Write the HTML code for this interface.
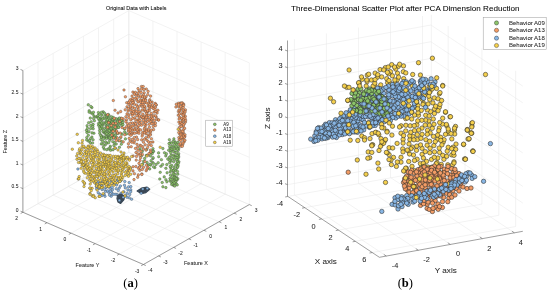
<!DOCTYPE html>
<html><head><meta charset="utf-8"><style>
html,body{margin:0;padding:0;background:#fff;}
svg{display:block;}
circle{stroke:#262626;}
.L circle{stroke-width:0.32;}
.R circle{stroke-width:0.55;}
.g{fill:#8cc46a;} .o{fill:#f39c65;} .b{fill:#88b6e4;} .y{fill:#f4cf4c;}
</style></head><body>
<svg width="550" height="292" viewBox="0 0 550 292">
<rect width="550" height="292" fill="#fff"/>
<line x1="143.40" y1="264.50" x2="22.90" y2="212.25" stroke="#e7e7e7" stroke-width="0.5" />
<line x1="158.53" y1="255.94" x2="38.03" y2="203.69" stroke="#e7e7e7" stroke-width="0.5" />
<line x1="173.66" y1="247.39" x2="53.16" y2="195.14" stroke="#e7e7e7" stroke-width="0.5" />
<line x1="188.79" y1="238.83" x2="68.29" y2="186.58" stroke="#e7e7e7" stroke-width="0.5" />
<line x1="203.91" y1="230.27" x2="83.41" y2="178.02" stroke="#e7e7e7" stroke-width="0.5" />
<line x1="219.04" y1="221.71" x2="98.54" y2="169.46" stroke="#e7e7e7" stroke-width="0.5" />
<line x1="234.17" y1="213.16" x2="113.67" y2="160.91" stroke="#e7e7e7" stroke-width="0.5" />
<line x1="249.30" y1="204.60" x2="128.80" y2="152.35" stroke="#e7e7e7" stroke-width="0.5" />
<line x1="143.40" y1="264.50" x2="249.30" y2="204.60" stroke="#e7e7e7" stroke-width="0.5" />
<line x1="119.30" y1="254.05" x2="225.20" y2="194.15" stroke="#e7e7e7" stroke-width="0.5" />
<line x1="95.20" y1="243.60" x2="201.10" y2="183.70" stroke="#e7e7e7" stroke-width="0.5" />
<line x1="71.10" y1="233.15" x2="177.00" y2="173.25" stroke="#e7e7e7" stroke-width="0.5" />
<line x1="47.00" y1="222.70" x2="152.90" y2="162.80" stroke="#e7e7e7" stroke-width="0.5" />
<line x1="22.90" y1="212.25" x2="128.80" y2="152.35" stroke="#e7e7e7" stroke-width="0.5" />
<line x1="22.90" y1="212.25" x2="22.90" y2="70.50" stroke="#e7e7e7" stroke-width="0.5" />
<line x1="38.03" y1="203.69" x2="38.03" y2="61.94" stroke="#e7e7e7" stroke-width="0.5" />
<line x1="53.16" y1="195.14" x2="53.16" y2="53.39" stroke="#e7e7e7" stroke-width="0.5" />
<line x1="68.29" y1="186.58" x2="68.29" y2="44.83" stroke="#e7e7e7" stroke-width="0.5" />
<line x1="83.41" y1="178.02" x2="83.41" y2="36.27" stroke="#e7e7e7" stroke-width="0.5" />
<line x1="98.54" y1="169.46" x2="98.54" y2="27.71" stroke="#e7e7e7" stroke-width="0.5" />
<line x1="113.67" y1="160.91" x2="113.67" y2="19.16" stroke="#e7e7e7" stroke-width="0.5" />
<line x1="128.80" y1="152.35" x2="128.80" y2="10.60" stroke="#e7e7e7" stroke-width="0.5" />
<line x1="22.90" y1="212.25" x2="128.80" y2="152.35" stroke="#e7e7e7" stroke-width="0.5" />
<line x1="22.90" y1="188.62" x2="128.80" y2="128.72" stroke="#e7e7e7" stroke-width="0.5" />
<line x1="22.90" y1="165.00" x2="128.80" y2="105.10" stroke="#e7e7e7" stroke-width="0.5" />
<line x1="22.90" y1="141.38" x2="128.80" y2="81.47" stroke="#e7e7e7" stroke-width="0.5" />
<line x1="22.90" y1="117.75" x2="128.80" y2="57.85" stroke="#e7e7e7" stroke-width="0.5" />
<line x1="22.90" y1="94.12" x2="128.80" y2="34.22" stroke="#e7e7e7" stroke-width="0.5" />
<line x1="22.90" y1="70.50" x2="128.80" y2="10.60" stroke="#e7e7e7" stroke-width="0.5" />
<line x1="249.30" y1="204.60" x2="249.30" y2="62.85" stroke="#e7e7e7" stroke-width="0.5" />
<line x1="225.20" y1="194.15" x2="225.20" y2="52.40" stroke="#e7e7e7" stroke-width="0.5" />
<line x1="201.10" y1="183.70" x2="201.10" y2="41.95" stroke="#e7e7e7" stroke-width="0.5" />
<line x1="177.00" y1="173.25" x2="177.00" y2="31.50" stroke="#e7e7e7" stroke-width="0.5" />
<line x1="152.90" y1="162.80" x2="152.90" y2="21.05" stroke="#e7e7e7" stroke-width="0.5" />
<line x1="128.80" y1="152.35" x2="128.80" y2="10.60" stroke="#e7e7e7" stroke-width="0.5" />
<line x1="249.30" y1="204.60" x2="128.80" y2="152.35" stroke="#e7e7e7" stroke-width="0.5" />
<line x1="249.30" y1="180.97" x2="128.80" y2="128.72" stroke="#e7e7e7" stroke-width="0.5" />
<line x1="249.30" y1="157.35" x2="128.80" y2="105.10" stroke="#e7e7e7" stroke-width="0.5" />
<line x1="249.30" y1="133.72" x2="128.80" y2="81.47" stroke="#e7e7e7" stroke-width="0.5" />
<line x1="249.30" y1="110.10" x2="128.80" y2="57.85" stroke="#e7e7e7" stroke-width="0.5" />
<line x1="249.30" y1="86.47" x2="128.80" y2="34.22" stroke="#e7e7e7" stroke-width="0.5" />
<line x1="249.30" y1="62.85" x2="128.80" y2="10.60" stroke="#e7e7e7" stroke-width="0.5" />
<line x1="22.90" y1="212.25" x2="22.90" y2="70.50" stroke="#606060" stroke-width="0.6" />
<line x1="22.90" y1="212.25" x2="143.40" y2="264.50" stroke="#606060" stroke-width="0.6" />
<line x1="143.40" y1="264.50" x2="249.30" y2="204.60" stroke="#606060" stroke-width="0.6" />
<line x1="22.90" y1="212.25" x2="20.50" y2="211.20" stroke="#606060" stroke-width="0.6" />
<line x1="22.90" y1="188.62" x2="20.50" y2="187.57" stroke="#606060" stroke-width="0.6" />
<line x1="22.90" y1="165.00" x2="20.50" y2="163.95" stroke="#606060" stroke-width="0.6" />
<line x1="22.90" y1="141.38" x2="20.50" y2="140.32" stroke="#606060" stroke-width="0.6" />
<line x1="22.90" y1="117.75" x2="20.50" y2="116.70" stroke="#606060" stroke-width="0.6" />
<line x1="22.90" y1="94.12" x2="20.50" y2="93.08" stroke="#606060" stroke-width="0.6" />
<line x1="22.90" y1="70.50" x2="20.50" y2="69.45" stroke="#606060" stroke-width="0.6" />
<line x1="143.40" y1="264.50" x2="141.13" y2="265.78" stroke="#606060" stroke-width="0.6" />
<line x1="119.30" y1="254.05" x2="117.03" y2="255.33" stroke="#606060" stroke-width="0.6" />
<line x1="95.20" y1="243.60" x2="92.93" y2="244.88" stroke="#606060" stroke-width="0.6" />
<line x1="71.10" y1="233.15" x2="68.83" y2="234.43" stroke="#606060" stroke-width="0.6" />
<line x1="47.00" y1="222.70" x2="44.73" y2="223.98" stroke="#606060" stroke-width="0.6" />
<line x1="22.90" y1="212.25" x2="20.63" y2="213.53" stroke="#606060" stroke-width="0.6" />
<line x1="143.40" y1="264.50" x2="145.81" y2="265.55" stroke="#606060" stroke-width="0.6" />
<line x1="158.53" y1="255.94" x2="160.94" y2="256.99" stroke="#606060" stroke-width="0.6" />
<line x1="173.66" y1="247.39" x2="176.07" y2="248.43" stroke="#606060" stroke-width="0.6" />
<line x1="188.79" y1="238.83" x2="191.20" y2="239.87" stroke="#606060" stroke-width="0.6" />
<line x1="203.91" y1="230.27" x2="206.32" y2="231.32" stroke="#606060" stroke-width="0.6" />
<line x1="219.04" y1="221.71" x2="221.45" y2="222.76" stroke="#606060" stroke-width="0.6" />
<line x1="234.17" y1="213.16" x2="236.58" y2="214.20" stroke="#606060" stroke-width="0.6" />
<line x1="249.30" y1="204.60" x2="251.71" y2="205.64" stroke="#606060" stroke-width="0.6" />
<text x="18.40" y="210.75" font-size="4.95" text-anchor="end" fill="#262626" stroke="#262626" stroke-width="0.05" font-family="Liberation Sans, Arial, sans-serif" dominant-baseline="middle">0</text>
<text x="18.40" y="187.12" font-size="4.95" text-anchor="end" fill="#262626" stroke="#262626" stroke-width="0.05" font-family="Liberation Sans, Arial, sans-serif" dominant-baseline="middle">0.5</text>
<text x="18.40" y="163.50" font-size="4.95" text-anchor="end" fill="#262626" stroke="#262626" stroke-width="0.05" font-family="Liberation Sans, Arial, sans-serif" dominant-baseline="middle">1</text>
<text x="18.40" y="139.88" font-size="4.95" text-anchor="end" fill="#262626" stroke="#262626" stroke-width="0.05" font-family="Liberation Sans, Arial, sans-serif" dominant-baseline="middle">1.5</text>
<text x="18.40" y="116.25" font-size="4.95" text-anchor="end" fill="#262626" stroke="#262626" stroke-width="0.05" font-family="Liberation Sans, Arial, sans-serif" dominant-baseline="middle">2</text>
<text x="18.40" y="92.62" font-size="4.95" text-anchor="end" fill="#262626" stroke="#262626" stroke-width="0.05" font-family="Liberation Sans, Arial, sans-serif" dominant-baseline="middle">2.5</text>
<text x="18.40" y="69.00" font-size="4.95" text-anchor="end" fill="#262626" stroke="#262626" stroke-width="0.05" font-family="Liberation Sans, Arial, sans-serif" dominant-baseline="middle">3</text>
<text x="137.10" y="271.20" font-size="4.95" text-anchor="middle" fill="#262626" stroke="#262626" stroke-width="0.05" font-family="Liberation Sans, Arial, sans-serif" dominant-baseline="middle">-3</text>
<text x="113.00" y="260.75" font-size="4.95" text-anchor="middle" fill="#262626" stroke="#262626" stroke-width="0.05" font-family="Liberation Sans, Arial, sans-serif" dominant-baseline="middle">-2</text>
<text x="88.90" y="250.30" font-size="4.95" text-anchor="middle" fill="#262626" stroke="#262626" stroke-width="0.05" font-family="Liberation Sans, Arial, sans-serif" dominant-baseline="middle">-1</text>
<text x="64.80" y="239.85" font-size="4.95" text-anchor="middle" fill="#262626" stroke="#262626" stroke-width="0.05" font-family="Liberation Sans, Arial, sans-serif" dominant-baseline="middle">0</text>
<text x="40.70" y="229.40" font-size="4.95" text-anchor="middle" fill="#262626" stroke="#262626" stroke-width="0.05" font-family="Liberation Sans, Arial, sans-serif" dominant-baseline="middle">1</text>
<text x="16.60" y="218.95" font-size="4.95" text-anchor="middle" fill="#262626" stroke="#262626" stroke-width="0.05" font-family="Liberation Sans, Arial, sans-serif" dominant-baseline="middle">2</text>
<text x="150.20" y="270.90" font-size="4.95" text-anchor="middle" fill="#262626" stroke="#262626" stroke-width="0.05" font-family="Liberation Sans, Arial, sans-serif" dominant-baseline="middle">-4</text>
<text x="165.33" y="262.34" font-size="4.95" text-anchor="middle" fill="#262626" stroke="#262626" stroke-width="0.05" font-family="Liberation Sans, Arial, sans-serif" dominant-baseline="middle">-3</text>
<text x="180.46" y="253.79" font-size="4.95" text-anchor="middle" fill="#262626" stroke="#262626" stroke-width="0.05" font-family="Liberation Sans, Arial, sans-serif" dominant-baseline="middle">-2</text>
<text x="195.59" y="245.23" font-size="4.95" text-anchor="middle" fill="#262626" stroke="#262626" stroke-width="0.05" font-family="Liberation Sans, Arial, sans-serif" dominant-baseline="middle">-1</text>
<text x="210.71" y="236.67" font-size="4.95" text-anchor="middle" fill="#262626" stroke="#262626" stroke-width="0.05" font-family="Liberation Sans, Arial, sans-serif" dominant-baseline="middle">0</text>
<text x="225.84" y="228.11" font-size="4.95" text-anchor="middle" fill="#262626" stroke="#262626" stroke-width="0.05" font-family="Liberation Sans, Arial, sans-serif" dominant-baseline="middle">1</text>
<text x="240.97" y="219.56" font-size="4.95" text-anchor="middle" fill="#262626" stroke="#262626" stroke-width="0.05" font-family="Liberation Sans, Arial, sans-serif" dominant-baseline="middle">2</text>
<text x="256.10" y="211.00" font-size="4.95" text-anchor="middle" fill="#262626" stroke="#262626" stroke-width="0.05" font-family="Liberation Sans, Arial, sans-serif" dominant-baseline="middle">3</text>
<text x="87.50" y="266.60" font-size="5.45" text-anchor="middle" fill="#262626" stroke="#262626" stroke-width="0.05" font-family="Liberation Sans, Arial, sans-serif" >Feature Y</text>
<text x="196.00" y="264.90" font-size="5.45" text-anchor="middle" fill="#262626" stroke="#262626" stroke-width="0.05" font-family="Liberation Sans, Arial, sans-serif" >Feature X</text>
<text x="0.00" y="0.00" font-size="5.45" text-anchor="middle" fill="#262626" stroke="#262626" stroke-width="0.05" font-family="Liberation Sans, Arial, sans-serif" transform="translate(6.8,141.8) rotate(-90)">Feature Z</text>
<text x="136.25" y="9.50" font-size="5.45" text-anchor="middle" fill="#000" stroke="#000" stroke-width="0.05" font-family="Liberation Sans, Arial, sans-serif" >Original Data with Labels</text>
<line x1="287.92" y1="196.48" x2="431.32" y2="170.48" stroke="#e7e7e7" stroke-width="0.5" />
<line x1="304.78" y1="207.69" x2="448.18" y2="181.69" stroke="#e7e7e7" stroke-width="0.5" />
<line x1="321.65" y1="218.90" x2="465.05" y2="192.90" stroke="#e7e7e7" stroke-width="0.5" />
<line x1="338.51" y1="230.11" x2="481.91" y2="204.11" stroke="#e7e7e7" stroke-width="0.5" />
<line x1="355.37" y1="241.32" x2="498.77" y2="215.32" stroke="#e7e7e7" stroke-width="0.5" />
<line x1="372.23" y1="252.54" x2="515.63" y2="226.54" stroke="#e7e7e7" stroke-width="0.5" />
<line x1="294.39" y1="194.95" x2="386.29" y2="256.05" stroke="#e7e7e7" stroke-width="0.5" />
<line x1="326.41" y1="189.14" x2="418.31" y2="250.24" stroke="#e7e7e7" stroke-width="0.5" />
<line x1="358.44" y1="183.34" x2="450.34" y2="244.44" stroke="#e7e7e7" stroke-width="0.5" />
<line x1="390.47" y1="177.53" x2="482.37" y2="238.63" stroke="#e7e7e7" stroke-width="0.5" />
<line x1="422.49" y1="171.72" x2="514.39" y2="232.82" stroke="#e7e7e7" stroke-width="0.5" />
<line x1="294.39" y1="194.95" x2="294.39" y2="39.25" stroke="#e7e7e7" stroke-width="0.5" />
<line x1="326.41" y1="189.14" x2="326.41" y2="33.44" stroke="#e7e7e7" stroke-width="0.5" />
<line x1="358.44" y1="183.34" x2="358.44" y2="27.64" stroke="#e7e7e7" stroke-width="0.5" />
<line x1="390.47" y1="177.53" x2="390.47" y2="21.83" stroke="#e7e7e7" stroke-width="0.5" />
<line x1="422.49" y1="171.72" x2="422.49" y2="16.02" stroke="#e7e7e7" stroke-width="0.5" />
<line x1="287.50" y1="184.67" x2="430.90" y2="158.67" stroke="#e7e7e7" stroke-width="0.5" />
<line x1="287.50" y1="167.97" x2="430.90" y2="141.97" stroke="#e7e7e7" stroke-width="0.5" />
<line x1="287.50" y1="151.26" x2="430.90" y2="125.26" stroke="#e7e7e7" stroke-width="0.5" />
<line x1="287.50" y1="134.55" x2="430.90" y2="108.55" stroke="#e7e7e7" stroke-width="0.5" />
<line x1="287.50" y1="117.85" x2="430.90" y2="91.85" stroke="#e7e7e7" stroke-width="0.5" />
<line x1="287.50" y1="101.14" x2="430.90" y2="75.14" stroke="#e7e7e7" stroke-width="0.5" />
<line x1="287.50" y1="84.44" x2="430.90" y2="58.44" stroke="#e7e7e7" stroke-width="0.5" />
<line x1="287.50" y1="67.73" x2="430.90" y2="41.73" stroke="#e7e7e7" stroke-width="0.5" />
<line x1="287.50" y1="51.02" x2="430.90" y2="25.02" stroke="#e7e7e7" stroke-width="0.5" />
<line x1="431.32" y1="170.48" x2="431.32" y2="14.78" stroke="#e7e7e7" stroke-width="0.5" />
<line x1="448.18" y1="181.69" x2="448.18" y2="25.99" stroke="#e7e7e7" stroke-width="0.5" />
<line x1="465.05" y1="192.90" x2="465.05" y2="37.20" stroke="#e7e7e7" stroke-width="0.5" />
<line x1="481.91" y1="204.11" x2="481.91" y2="48.41" stroke="#e7e7e7" stroke-width="0.5" />
<line x1="498.77" y1="215.32" x2="498.77" y2="59.62" stroke="#e7e7e7" stroke-width="0.5" />
<line x1="515.63" y1="226.54" x2="515.63" y2="70.84" stroke="#e7e7e7" stroke-width="0.5" />
<line x1="430.90" y1="158.67" x2="522.80" y2="219.77" stroke="#e7e7e7" stroke-width="0.5" />
<line x1="430.90" y1="141.97" x2="522.80" y2="203.07" stroke="#e7e7e7" stroke-width="0.5" />
<line x1="430.90" y1="125.26" x2="522.80" y2="186.36" stroke="#e7e7e7" stroke-width="0.5" />
<line x1="430.90" y1="108.55" x2="522.80" y2="169.65" stroke="#e7e7e7" stroke-width="0.5" />
<line x1="430.90" y1="91.85" x2="522.80" y2="152.95" stroke="#e7e7e7" stroke-width="0.5" />
<line x1="430.90" y1="75.14" x2="522.80" y2="136.24" stroke="#e7e7e7" stroke-width="0.5" />
<line x1="430.90" y1="58.44" x2="522.80" y2="119.54" stroke="#e7e7e7" stroke-width="0.5" />
<line x1="430.90" y1="41.73" x2="522.80" y2="102.83" stroke="#e7e7e7" stroke-width="0.5" />
<line x1="430.90" y1="25.02" x2="522.80" y2="86.12" stroke="#e7e7e7" stroke-width="0.5" />
<line x1="287.50" y1="196.20" x2="287.50" y2="40.50" stroke="#606060" stroke-width="0.6" />
<line x1="287.50" y1="196.20" x2="379.40" y2="257.30" stroke="#606060" stroke-width="0.6" />
<line x1="379.40" y1="257.30" x2="522.80" y2="231.30" stroke="#606060" stroke-width="0.6" />
<line x1="287.50" y1="184.67" x2="285.00" y2="183.67" stroke="#606060" stroke-width="0.6" />
<line x1="287.50" y1="167.97" x2="285.00" y2="166.97" stroke="#606060" stroke-width="0.6" />
<line x1="287.50" y1="151.26" x2="285.00" y2="150.26" stroke="#606060" stroke-width="0.6" />
<line x1="287.50" y1="134.55" x2="285.00" y2="133.55" stroke="#606060" stroke-width="0.6" />
<line x1="287.50" y1="117.85" x2="285.00" y2="116.85" stroke="#606060" stroke-width="0.6" />
<line x1="287.50" y1="101.14" x2="285.00" y2="100.14" stroke="#606060" stroke-width="0.6" />
<line x1="287.50" y1="84.44" x2="285.00" y2="83.44" stroke="#606060" stroke-width="0.6" />
<line x1="287.50" y1="67.73" x2="285.00" y2="66.73" stroke="#606060" stroke-width="0.6" />
<line x1="287.50" y1="51.02" x2="285.00" y2="50.02" stroke="#606060" stroke-width="0.6" />
<line x1="287.92" y1="196.48" x2="285.20" y2="196.97" stroke="#606060" stroke-width="0.6" />
<line x1="304.78" y1="207.69" x2="302.06" y2="208.18" stroke="#606060" stroke-width="0.6" />
<line x1="321.65" y1="218.90" x2="318.92" y2="219.40" stroke="#606060" stroke-width="0.6" />
<line x1="338.51" y1="230.11" x2="335.79" y2="230.61" stroke="#606060" stroke-width="0.6" />
<line x1="355.37" y1="241.32" x2="352.65" y2="241.82" stroke="#606060" stroke-width="0.6" />
<line x1="372.23" y1="252.54" x2="369.51" y2="253.03" stroke="#606060" stroke-width="0.6" />
<line x1="386.29" y1="256.05" x2="383.76" y2="254.37" stroke="#606060" stroke-width="0.6" />
<line x1="418.31" y1="250.24" x2="415.78" y2="248.56" stroke="#606060" stroke-width="0.6" />
<line x1="450.34" y1="244.44" x2="447.81" y2="242.76" stroke="#606060" stroke-width="0.6" />
<line x1="482.37" y1="238.63" x2="479.84" y2="236.95" stroke="#606060" stroke-width="0.6" />
<line x1="514.39" y1="232.82" x2="511.86" y2="231.14" stroke="#606060" stroke-width="0.6" />
<text x="282.50" y="182.87" font-size="7.35" text-anchor="end" fill="#262626" stroke="#262626" stroke-width="0.05" font-family="Liberation Sans, Arial, sans-serif" dominant-baseline="middle">-4</text>
<text x="282.50" y="166.17" font-size="7.35" text-anchor="end" fill="#262626" stroke="#262626" stroke-width="0.05" font-family="Liberation Sans, Arial, sans-serif" dominant-baseline="middle">-3</text>
<text x="282.50" y="149.46" font-size="7.35" text-anchor="end" fill="#262626" stroke="#262626" stroke-width="0.05" font-family="Liberation Sans, Arial, sans-serif" dominant-baseline="middle">-2</text>
<text x="282.50" y="132.75" font-size="7.35" text-anchor="end" fill="#262626" stroke="#262626" stroke-width="0.05" font-family="Liberation Sans, Arial, sans-serif" dominant-baseline="middle">-1</text>
<text x="282.50" y="116.05" font-size="7.35" text-anchor="end" fill="#262626" stroke="#262626" stroke-width="0.05" font-family="Liberation Sans, Arial, sans-serif" dominant-baseline="middle">0</text>
<text x="282.50" y="99.34" font-size="7.35" text-anchor="end" fill="#262626" stroke="#262626" stroke-width="0.05" font-family="Liberation Sans, Arial, sans-serif" dominant-baseline="middle">1</text>
<text x="282.50" y="82.64" font-size="7.35" text-anchor="end" fill="#262626" stroke="#262626" stroke-width="0.05" font-family="Liberation Sans, Arial, sans-serif" dominant-baseline="middle">2</text>
<text x="282.50" y="65.93" font-size="7.35" text-anchor="end" fill="#262626" stroke="#262626" stroke-width="0.05" font-family="Liberation Sans, Arial, sans-serif" dominant-baseline="middle">3</text>
<text x="282.50" y="49.22" font-size="7.35" text-anchor="end" fill="#262626" stroke="#262626" stroke-width="0.05" font-family="Liberation Sans, Arial, sans-serif" dominant-baseline="middle">4</text>
<text x="279.92" y="204.28" font-size="7.35" text-anchor="middle" fill="#262626" stroke="#262626" stroke-width="0.05" font-family="Liberation Sans, Arial, sans-serif" dominant-baseline="middle">-4</text>
<text x="296.78" y="215.49" font-size="7.35" text-anchor="middle" fill="#262626" stroke="#262626" stroke-width="0.05" font-family="Liberation Sans, Arial, sans-serif" dominant-baseline="middle">-2</text>
<text x="313.65" y="226.70" font-size="7.35" text-anchor="middle" fill="#262626" stroke="#262626" stroke-width="0.05" font-family="Liberation Sans, Arial, sans-serif" dominant-baseline="middle">0</text>
<text x="330.51" y="237.91" font-size="7.35" text-anchor="middle" fill="#262626" stroke="#262626" stroke-width="0.05" font-family="Liberation Sans, Arial, sans-serif" dominant-baseline="middle">2</text>
<text x="347.37" y="249.12" font-size="7.35" text-anchor="middle" fill="#262626" stroke="#262626" stroke-width="0.05" font-family="Liberation Sans, Arial, sans-serif" dominant-baseline="middle">4</text>
<text x="364.23" y="260.34" font-size="7.35" text-anchor="middle" fill="#262626" stroke="#262626" stroke-width="0.05" font-family="Liberation Sans, Arial, sans-serif" dominant-baseline="middle">6</text>
<text x="395.10" y="265.90" font-size="7.35" text-anchor="middle" fill="#262626" stroke="#262626" stroke-width="0.05" font-family="Liberation Sans, Arial, sans-serif" dominant-baseline="middle">-4</text>
<text x="426.50" y="260.20" font-size="7.35" text-anchor="middle" fill="#262626" stroke="#262626" stroke-width="0.05" font-family="Liberation Sans, Arial, sans-serif" dominant-baseline="middle">-2</text>
<text x="458.00" y="254.50" font-size="7.35" text-anchor="middle" fill="#262626" stroke="#262626" stroke-width="0.05" font-family="Liberation Sans, Arial, sans-serif" dominant-baseline="middle">0</text>
<text x="489.40" y="248.80" font-size="7.35" text-anchor="middle" fill="#262626" stroke="#262626" stroke-width="0.05" font-family="Liberation Sans, Arial, sans-serif" dominant-baseline="middle">2</text>
<text x="520.90" y="243.10" font-size="7.35" text-anchor="middle" fill="#262626" stroke="#262626" stroke-width="0.05" font-family="Liberation Sans, Arial, sans-serif" dominant-baseline="middle">4</text>
<text x="325.80" y="263.90" font-size="8.1" text-anchor="middle" fill="#262626" stroke="#262626" stroke-width="0.05" font-family="Liberation Sans, Arial, sans-serif" >X axis</text>
<text x="445.80" y="272.70" font-size="8.1" text-anchor="middle" fill="#262626" stroke="#262626" stroke-width="0.05" font-family="Liberation Sans, Arial, sans-serif" >Y axis</text>
<text x="0.00" y="0.00" font-size="8.1" text-anchor="middle" fill="#262626" stroke="#262626" stroke-width="0.05" font-family="Liberation Sans, Arial, sans-serif" transform="translate(270.1,118.2) rotate(-90)">Z axis</text>
<text x="405.30" y="10.60" font-size="8.11" text-anchor="middle" fill="#000" stroke="#000" stroke-width="0.05" font-family="Liberation Sans, Arial, sans-serif" >Three-Dimensional Scatter Plot after PCA Dimension Reduction</text>
<text x="130.60" y="287.20" font-size="12.5" text-anchor="middle" fill="#000" font-family="Liberation Serif, serif" font-weight="bold"><tspan font-weight="normal">(</tspan>a<tspan font-weight="normal">)</tspan></text>
<text x="405.30" y="287.20" font-size="12.5" text-anchor="middle" fill="#000" font-family="Liberation Serif, serif" font-weight="bold"><tspan font-weight="normal">(</tspan>b<tspan font-weight="normal">)</tspan></text>
<g class="L">
<circle cx="86.8" cy="137.5" r="1.28" class="g"/>
<circle cx="88.3" cy="104.8" r="1.28" class="g"/>
<circle cx="94.4" cy="120.7" r="1.28" class="g"/>
<circle cx="87.1" cy="125.7" r="1.28" class="g"/>
<circle cx="89.2" cy="110.7" r="1.28" class="g"/>
<circle cx="90.3" cy="142.8" r="1.28" class="g"/>
<circle cx="93.9" cy="133.2" r="1.28" class="g"/>
<circle cx="90.6" cy="128.6" r="1.28" class="g"/>
<circle cx="92.7" cy="113.9" r="1.28" class="g"/>
<circle cx="88.6" cy="122.7" r="1.28" class="g"/>
<circle cx="86.9" cy="132.4" r="1.28" class="g"/>
<circle cx="93.1" cy="124.4" r="1.28" class="g"/>
<circle cx="88.4" cy="141.1" r="1.28" class="g"/>
<circle cx="86.5" cy="130.3" r="1.28" class="g"/>
<circle cx="91.9" cy="137.1" r="1.28" class="g"/>
<circle cx="93.5" cy="118.5" r="1.28" class="g"/>
<circle cx="90.9" cy="112.8" r="1.28" class="g"/>
<circle cx="91.9" cy="107.6" r="1.28" class="g"/>
<circle cx="91.2" cy="121.8" r="1.28" class="g"/>
<circle cx="87.5" cy="128.4" r="1.28" class="g"/>
<circle cx="94.0" cy="116.0" r="1.28" class="g"/>
<circle cx="88.3" cy="135.3" r="1.28" class="g"/>
<circle cx="93.1" cy="139.8" r="1.28" class="g"/>
<circle cx="90.7" cy="125.4" r="1.28" class="g"/>
<circle cx="90.9" cy="106.5" r="1.28" class="g"/>
<circle cx="92.0" cy="132.9" r="1.28" class="g"/>
<circle cx="90.4" cy="138.7" r="1.28" class="g"/>
<circle cx="89.0" cy="131.7" r="1.28" class="g"/>
<circle cx="93.2" cy="128.8" r="1.28" class="g"/>
<circle cx="89.7" cy="140.5" r="1.28" class="g"/>
<circle cx="86.7" cy="139.9" r="1.28" class="g"/>
<circle cx="93.4" cy="112.2" r="1.28" class="g"/>
<circle cx="92.8" cy="126.5" r="1.28" class="g"/>
<circle cx="90.3" cy="118.1" r="1.28" class="g"/>
<circle cx="89.1" cy="112.1" r="1.28" class="g"/>
<circle cx="92.6" cy="143.0" r="1.28" class="g"/>
<circle cx="96.0" cy="117.0" r="1.28" class="g"/>
<circle cx="97.5" cy="116.5" r="1.28" class="g"/>
<circle cx="110.6" cy="131.1" r="1.28" class="g"/>
<circle cx="106.8" cy="118.1" r="1.28" class="g"/>
<circle cx="121.0" cy="118.3" r="1.28" class="g"/>
<circle cx="102.0" cy="128.6" r="1.28" class="g"/>
<circle cx="103.4" cy="137.0" r="1.28" class="g"/>
<circle cx="114.0" cy="119.5" r="1.28" class="g"/>
<circle cx="100.3" cy="121.7" r="1.28" class="g"/>
<circle cx="103.2" cy="111.9" r="1.28" class="g"/>
<circle cx="119.2" cy="123.5" r="1.28" class="g"/>
<circle cx="112.9" cy="135.8" r="1.28" class="g"/>
<circle cx="98.4" cy="112.6" r="1.28" class="g"/>
<circle cx="114.4" cy="131.1" r="1.28" class="g"/>
<circle cx="113.5" cy="126.1" r="1.28" class="g"/>
<circle cx="101.5" cy="135.8" r="1.28" class="g"/>
<circle cx="98.6" cy="125.3" r="1.28" class="g"/>
<circle cx="105.5" cy="122.5" r="1.28" class="g"/>
<circle cx="106.7" cy="126.5" r="1.28" class="g"/>
<circle cx="106.1" cy="131.2" r="1.28" class="g"/>
<circle cx="117.3" cy="120.8" r="1.28" class="g"/>
<circle cx="101.9" cy="115.0" r="1.28" class="g"/>
<circle cx="100.3" cy="118.1" r="1.28" class="g"/>
<circle cx="116.7" cy="133.0" r="1.28" class="g"/>
<circle cx="110.4" cy="121.9" r="1.28" class="g"/>
<circle cx="108.3" cy="128.0" r="1.28" class="g"/>
<circle cx="108.2" cy="136.3" r="1.28" class="g"/>
<circle cx="119.9" cy="121.4" r="1.28" class="g"/>
<circle cx="98.0" cy="115.6" r="1.28" class="g"/>
<circle cx="116.5" cy="124.3" r="1.28" class="g"/>
<circle cx="113.7" cy="137.9" r="1.28" class="g"/>
<circle cx="104.5" cy="118.5" r="1.28" class="g"/>
<circle cx="102.8" cy="125.1" r="1.28" class="g"/>
<circle cx="108.4" cy="114.5" r="1.28" class="g"/>
<circle cx="111.6" cy="127.4" r="1.28" class="g"/>
<circle cx="99.0" cy="119.8" r="1.28" class="g"/>
<circle cx="115.8" cy="128.4" r="1.28" class="g"/>
<circle cx="116.1" cy="126.2" r="1.28" class="g"/>
<circle cx="99.6" cy="130.6" r="1.28" class="g"/>
<circle cx="111.2" cy="119.7" r="1.28" class="g"/>
<circle cx="122.6" cy="120.5" r="1.28" class="g"/>
<circle cx="103.2" cy="122.7" r="1.28" class="g"/>
<circle cx="111.9" cy="133.8" r="1.28" class="g"/>
<circle cx="118.7" cy="127.3" r="1.28" class="g"/>
<circle cx="120.9" cy="123.4" r="1.28" class="g"/>
<circle cx="104.0" cy="132.8" r="1.28" class="g"/>
<circle cx="105.8" cy="134.8" r="1.28" class="g"/>
<circle cx="115.3" cy="135.1" r="1.28" class="g"/>
<circle cx="116.3" cy="137.3" r="1.28" class="g"/>
<circle cx="110.0" cy="124.3" r="1.28" class="g"/>
<circle cx="118.6" cy="118.8" r="1.28" class="g"/>
<circle cx="121.7" cy="125.5" r="1.28" class="g"/>
<circle cx="108.8" cy="132.4" r="1.28" class="g"/>
<circle cx="114.5" cy="123.9" r="1.28" class="g"/>
<circle cx="108.0" cy="121.5" r="1.28" class="g"/>
<circle cx="101.3" cy="117.9" r="1.28" class="g"/>
<circle cx="108.9" cy="134.5" r="1.28" class="g"/>
<circle cx="100.9" cy="125.5" r="1.28" class="g"/>
<circle cx="99.8" cy="133.3" r="1.28" class="g"/>
<circle cx="105.9" cy="132.9" r="1.28" class="g"/>
<circle cx="100.7" cy="135.5" r="1.28" class="g"/>
<circle cx="104.6" cy="128.2" r="1.28" class="g"/>
<circle cx="108.7" cy="118.3" r="1.28" class="g"/>
<circle cx="108.7" cy="122.9" r="1.28" class="g"/>
<circle cx="108.0" cy="137.8" r="1.28" class="g"/>
<circle cx="105.9" cy="115.0" r="1.28" class="g"/>
<circle cx="113.1" cy="134.0" r="1.28" class="g"/>
<circle cx="106.4" cy="120.9" r="1.28" class="g"/>
<circle cx="101.8" cy="119.8" r="1.28" class="g"/>
<circle cx="104.6" cy="113.2" r="1.28" class="g"/>
<circle cx="104.5" cy="116.7" r="1.28" class="g"/>
<circle cx="113.1" cy="128.9" r="1.28" class="g"/>
<circle cx="106.4" cy="137.0" r="1.28" class="g"/>
<circle cx="115.6" cy="119.0" r="1.28" class="g"/>
<circle cx="122.7" cy="122.7" r="1.28" class="g"/>
<circle cx="110.0" cy="133.5" r="1.28" class="g"/>
<circle cx="98.7" cy="123.4" r="1.28" class="g"/>
<circle cx="114.1" cy="121.4" r="1.28" class="g"/>
<circle cx="99.7" cy="114.2" r="1.28" class="g"/>
<circle cx="111.4" cy="123.5" r="1.28" class="g"/>
<circle cx="105.6" cy="124.4" r="1.28" class="g"/>
<circle cx="112.0" cy="118.5" r="1.28" class="g"/>
<circle cx="99.8" cy="124.3" r="1.28" class="g"/>
<circle cx="102.8" cy="119.0" r="1.28" class="g"/>
<circle cx="101.5" cy="112.2" r="1.28" class="g"/>
<circle cx="113.1" cy="122.9" r="1.28" class="g"/>
<circle cx="106.8" cy="123.3" r="1.28" class="g"/>
<circle cx="109.6" cy="120.5" r="1.28" class="g"/>
<circle cx="99.6" cy="127.5" r="1.28" class="g"/>
<circle cx="123.0" cy="124.7" r="1.28" class="g"/>
<circle cx="98.4" cy="118.3" r="1.28" class="g"/>
<circle cx="120.0" cy="119.8" r="1.28" class="g"/>
<circle cx="112.9" cy="123.8" r="1.28" class="g"/>
<circle cx="102.9" cy="131.6" r="1.28" class="g"/>
<circle cx="107.2" cy="126.1" r="1.28" class="g"/>
<circle cx="112.5" cy="137.9" r="1.28" class="g"/>
<circle cx="110.4" cy="136.7" r="1.28" class="g"/>
<circle cx="106.9" cy="128.7" r="1.28" class="g"/>
<circle cx="103.9" cy="130.7" r="1.28" class="g"/>
<circle cx="112.4" cy="131.0" r="1.28" class="g"/>
<circle cx="101.9" cy="126.9" r="1.28" class="g"/>
<circle cx="101.8" cy="122.9" r="1.28" class="g"/>
<circle cx="109.6" cy="125.9" r="1.28" class="g"/>
<circle cx="117.0" cy="127.7" r="1.28" class="g"/>
<circle cx="109.2" cy="115.9" r="1.28" class="g"/>
<circle cx="118.1" cy="126.0" r="1.28" class="g"/>
<circle cx="101.4" cy="137.2" r="1.28" class="g"/>
<circle cx="107.4" cy="119.7" r="1.28" class="g"/>
<circle cx="112.9" cy="119.5" r="1.28" class="g"/>
<circle cx="111.7" cy="116.9" r="1.28" class="g"/>
<circle cx="113.3" cy="117.6" r="1.28" class="g"/>
<circle cx="108.0" cy="129.9" r="1.28" class="g"/>
<circle cx="116.3" cy="118.9" r="1.28" class="g"/>
<circle cx="114.4" cy="129.9" r="1.28" class="g"/>
<circle cx="107.0" cy="115.7" r="1.28" class="g"/>
<circle cx="121.2" cy="120.4" r="1.28" class="g"/>
<circle cx="117.4" cy="122.1" r="1.28" class="g"/>
<circle cx="109.5" cy="129.6" r="1.28" class="g"/>
<circle cx="106.8" cy="133.7" r="1.28" class="g"/>
<circle cx="111.9" cy="122.1" r="1.28" class="g"/>
<circle cx="100.4" cy="128.7" r="1.28" class="g"/>
<circle cx="104.6" cy="137.9" r="1.28" class="g"/>
<circle cx="111.0" cy="128.8" r="1.28" class="g"/>
<circle cx="119.4" cy="118.0" r="1.28" class="g"/>
<circle cx="109.3" cy="130.7" r="1.28" class="g"/>
<circle cx="110.3" cy="146.3" r="1.28" class="g"/>
<circle cx="100.9" cy="139.5" r="1.28" class="g"/>
<circle cx="104.2" cy="149.1" r="1.28" class="g"/>
<circle cx="114.4" cy="142.6" r="1.28" class="g"/>
<circle cx="115.3" cy="148.2" r="1.28" class="g"/>
<circle cx="106.5" cy="138.5" r="1.28" class="g"/>
<circle cx="109.8" cy="140.3" r="1.28" class="g"/>
<circle cx="110.6" cy="150.3" r="1.28" class="g"/>
<circle cx="115.3" cy="138.3" r="1.28" class="g"/>
<circle cx="112.8" cy="141.7" r="1.28" class="g"/>
<circle cx="108.4" cy="148.9" r="1.28" class="g"/>
<circle cx="105.2" cy="145.0" r="1.28" class="g"/>
<circle cx="105.5" cy="141.9" r="1.28" class="g"/>
<circle cx="102.7" cy="141.4" r="1.28" class="g"/>
<circle cx="103.6" cy="138.5" r="1.28" class="g"/>
<circle cx="109.5" cy="138.1" r="1.28" class="g"/>
<circle cx="116.2" cy="144.0" r="1.28" class="g"/>
<circle cx="101.3" cy="143.9" r="1.28" class="g"/>
<circle cx="111.4" cy="138.3" r="1.28" class="g"/>
<circle cx="103.1" cy="144.2" r="1.28" class="g"/>
<circle cx="106.7" cy="149.7" r="1.28" class="g"/>
<circle cx="107.0" cy="143.1" r="1.28" class="g"/>
<circle cx="103.3" cy="147.2" r="1.28" class="g"/>
<circle cx="113.9" cy="145.4" r="1.28" class="g"/>
<circle cx="108.7" cy="142.8" r="1.28" class="g"/>
<circle cx="113.0" cy="149.7" r="1.28" class="g"/>
<circle cx="110.0" cy="148.0" r="1.28" class="g"/>
<circle cx="118.7" cy="140.8" r="1.28" class="g"/>
<circle cx="124.4" cy="128.9" r="1.28" class="g"/>
<circle cx="119.4" cy="147.3" r="1.28" class="g"/>
<circle cx="122.1" cy="134.1" r="1.28" class="g"/>
<circle cx="125.4" cy="138.9" r="1.28" class="g"/>
<circle cx="121.3" cy="144.2" r="1.28" class="g"/>
<circle cx="120.6" cy="137.5" r="1.28" class="g"/>
<circle cx="118.7" cy="127.2" r="1.28" class="g"/>
<circle cx="126.4" cy="133.9" r="1.28" class="g"/>
<circle cx="121.3" cy="141.3" r="1.28" class="g"/>
<circle cx="124.7" cy="131.9" r="1.28" class="g"/>
<circle cx="117.8" cy="133.5" r="1.28" class="g"/>
<circle cx="154.8" cy="167.6" r="1.28" class="g"/>
<circle cx="141.7" cy="155.5" r="1.28" class="g"/>
<circle cx="152.2" cy="153.6" r="1.28" class="g"/>
<circle cx="147.1" cy="162.5" r="1.28" class="g"/>
<circle cx="152.9" cy="158.4" r="1.28" class="g"/>
<circle cx="146.6" cy="149.5" r="1.28" class="g"/>
<circle cx="149.7" cy="168.9" r="1.28" class="g"/>
<circle cx="146.3" cy="155.4" r="1.28" class="g"/>
<circle cx="140.1" cy="148.9" r="1.28" class="g"/>
<circle cx="153.0" cy="148.7" r="1.28" class="g"/>
<circle cx="148.2" cy="165.1" r="1.28" class="g"/>
<circle cx="143.6" cy="161.4" r="1.28" class="g"/>
<circle cx="150.8" cy="152.6" r="1.28" class="g"/>
<circle cx="142.3" cy="151.4" r="1.28" class="g"/>
<circle cx="144.7" cy="158.4" r="1.28" class="g"/>
<circle cx="156.0" cy="164.5" r="1.28" class="g"/>
<circle cx="150.7" cy="165.1" r="1.28" class="g"/>
<circle cx="152.8" cy="162.7" r="1.28" class="g"/>
<circle cx="153.5" cy="151.4" r="1.28" class="g"/>
<circle cx="142.7" cy="164.1" r="1.28" class="g"/>
<circle cx="175.0" cy="141.8" r="1.28" class="g"/>
<circle cx="171.7" cy="165.3" r="1.28" class="g"/>
<circle cx="171.8" cy="182.6" r="1.28" class="g"/>
<circle cx="178.7" cy="153.7" r="1.28" class="g"/>
<circle cx="171.0" cy="155.5" r="1.28" class="g"/>
<circle cx="176.3" cy="177.1" r="1.28" class="g"/>
<circle cx="175.7" cy="170.2" r="1.28" class="g"/>
<circle cx="178.9" cy="161.8" r="1.28" class="g"/>
<circle cx="175.6" cy="149.0" r="1.28" class="g"/>
<circle cx="170.3" cy="150.7" r="1.28" class="g"/>
<circle cx="170.2" cy="171.9" r="1.28" class="g"/>
<circle cx="170.2" cy="142.9" r="1.28" class="g"/>
<circle cx="175.1" cy="155.9" r="1.28" class="g"/>
<circle cx="171.9" cy="146.3" r="1.28" class="g"/>
<circle cx="176.1" cy="183.6" r="1.28" class="g"/>
<circle cx="175.0" cy="152.3" r="1.28" class="g"/>
<circle cx="178.0" cy="158.8" r="1.28" class="g"/>
<circle cx="177.8" cy="142.4" r="1.28" class="g"/>
<circle cx="178.1" cy="165.8" r="1.28" class="g"/>
<circle cx="177.0" cy="180.1" r="1.28" class="g"/>
<circle cx="176.5" cy="144.2" r="1.28" class="g"/>
<circle cx="170.5" cy="175.2" r="1.28" class="g"/>
<circle cx="172.6" cy="179.2" r="1.28" class="g"/>
<circle cx="174.5" cy="159.3" r="1.28" class="g"/>
<circle cx="177.8" cy="174.1" r="1.28" class="g"/>
<circle cx="170.1" cy="148.1" r="1.28" class="g"/>
<circle cx="170.7" cy="167.7" r="1.28" class="g"/>
<circle cx="169.6" cy="162.8" r="1.28" class="g"/>
<circle cx="173.7" cy="161.8" r="1.28" class="g"/>
<circle cx="173.9" cy="138.9" r="1.28" class="g"/>
<circle cx="173.8" cy="171.7" r="1.28" class="g"/>
<circle cx="178.5" cy="146.6" r="1.28" class="g"/>
<circle cx="174.0" cy="147.1" r="1.28" class="g"/>
<circle cx="169.4" cy="157.4" r="1.28" class="g"/>
<circle cx="175.1" cy="143.1" r="1.28" class="g"/>
<circle cx="176.9" cy="163.7" r="1.28" class="g"/>
<circle cx="171.7" cy="158.6" r="1.28" class="g"/>
<circle cx="173.1" cy="151.2" r="1.28" class="g"/>
<circle cx="169.9" cy="181.0" r="1.28" class="g"/>
<circle cx="170.0" cy="178.6" r="1.28" class="g"/>
<circle cx="173.5" cy="185.3" r="1.28" class="g"/>
<circle cx="170.8" cy="179.4" r="1.28" class="g"/>
<circle cx="174.1" cy="176.5" r="1.28" class="g"/>
<circle cx="177.5" cy="171.5" r="1.28" class="g"/>
<circle cx="173.9" cy="167.2" r="1.28" class="g"/>
<circle cx="172.0" cy="149.3" r="1.28" class="g"/>
<circle cx="171.1" cy="161.0" r="1.28" class="g"/>
<circle cx="174.4" cy="144.7" r="1.28" class="g"/>
<circle cx="173.0" cy="141.5" r="1.28" class="g"/>
<circle cx="174.0" cy="169.7" r="1.28" class="g"/>
<circle cx="169.4" cy="139.7" r="1.28" class="g"/>
<circle cx="171.7" cy="184.4" r="1.28" class="g"/>
<circle cx="178.7" cy="148.8" r="1.28" class="g"/>
<circle cx="170.7" cy="152.7" r="1.28" class="g"/>
<circle cx="178.3" cy="155.4" r="1.28" class="g"/>
<circle cx="172.9" cy="183.7" r="1.28" class="g"/>
<circle cx="170.2" cy="166.4" r="1.28" class="g"/>
<circle cx="173.1" cy="170.6" r="1.28" class="g"/>
<circle cx="173.3" cy="181.3" r="1.28" class="g"/>
<circle cx="178.1" cy="150.4" r="1.28" class="g"/>
<circle cx="172.5" cy="176.7" r="1.28" class="g"/>
<circle cx="175.7" cy="165.1" r="1.28" class="g"/>
<circle cx="173.2" cy="155.0" r="1.28" class="g"/>
<circle cx="178.7" cy="156.9" r="1.28" class="g"/>
<circle cx="175.0" cy="179.7" r="1.28" class="g"/>
<circle cx="177.2" cy="161.2" r="1.28" class="g"/>
<circle cx="169.6" cy="160.2" r="1.28" class="g"/>
<circle cx="176.3" cy="152.6" r="1.28" class="g"/>
<circle cx="174.4" cy="177.6" r="1.28" class="g"/>
<circle cx="173.8" cy="157.2" r="1.28" class="g"/>
<circle cx="174.9" cy="174.4" r="1.28" class="g"/>
<circle cx="176.7" cy="159.6" r="1.28" class="g"/>
<circle cx="175.6" cy="181.8" r="1.28" class="g"/>
<circle cx="177.1" cy="157.4" r="1.28" class="g"/>
<circle cx="177.2" cy="184.9" r="1.28" class="g"/>
<circle cx="176.9" cy="168.1" r="1.28" class="g"/>
<circle cx="171.2" cy="169.9" r="1.28" class="g"/>
<circle cx="176.6" cy="146.9" r="1.28" class="g"/>
<circle cx="174.2" cy="182.8" r="1.28" class="g"/>
<circle cx="171.6" cy="143.3" r="1.28" class="g"/>
<circle cx="178.3" cy="163.4" r="1.28" class="g"/>
<circle cx="173.0" cy="173.9" r="1.28" class="g"/>
<circle cx="177.7" cy="167.1" r="1.28" class="g"/>
<circle cx="177.8" cy="178.7" r="1.28" class="g"/>
<circle cx="175.6" cy="178.4" r="1.28" class="g"/>
<circle cx="176.4" cy="178.9" r="1.28" class="g"/>
<circle cx="174.7" cy="186.0" r="1.28" class="g"/>
<circle cx="177.2" cy="155.5" r="1.28" class="g"/>
<circle cx="177.3" cy="149.1" r="1.28" class="g"/>
<circle cx="169.7" cy="146.5" r="1.28" class="g"/>
<circle cx="169.0" cy="143.6" r="1.28" class="g"/>
<circle cx="174.2" cy="149.0" r="1.28" class="g"/>
<circle cx="165.9" cy="168.3" r="1.28" class="g"/>
<circle cx="168.7" cy="150.2" r="1.28" class="g"/>
<circle cx="165.9" cy="179.8" r="1.28" class="g"/>
<circle cx="161.4" cy="159.7" r="1.28" class="g"/>
<circle cx="158.6" cy="152.9" r="1.28" class="g"/>
<circle cx="159.8" cy="179.0" r="1.28" class="g"/>
<circle cx="160.2" cy="172.3" r="1.28" class="g"/>
<circle cx="160.9" cy="166.2" r="1.28" class="g"/>
<circle cx="162.9" cy="148.5" r="1.28" class="g"/>
<circle cx="162.2" cy="182.5" r="1.28" class="g"/>
<circle cx="167.8" cy="159.1" r="1.28" class="g"/>
<circle cx="167.1" cy="172.8" r="1.28" class="g"/>
<circle cx="162.6" cy="164.5" r="1.28" class="g"/>
<circle cx="158.2" cy="162.7" r="1.28" class="g"/>
<circle cx="164.2" cy="176.9" r="1.28" class="g"/>
<circle cx="165.8" cy="155.9" r="1.28" class="g"/>
<circle cx="166.9" cy="181.8" r="1.28" class="g"/>
<circle cx="164.5" cy="152.8" r="1.28" class="g"/>
<circle cx="166.4" cy="153.8" r="1.28" class="g"/>
<circle cx="158.7" cy="156.7" r="1.28" class="g"/>
<circle cx="162.9" cy="186.8" r="1.28" class="g"/>
<circle cx="166.8" cy="164.6" r="1.28" class="g"/>
<circle cx="165.9" cy="187.6" r="1.28" class="g"/>
<circle cx="150.4" cy="155.9" r="1.28" class="g"/>
<circle cx="153.0" cy="151.3" r="1.28" class="g"/>
<circle cx="153.6" cy="166.9" r="1.28" class="g"/>
<circle cx="153.2" cy="163.2" r="1.28" class="g"/>
<circle cx="153.1" cy="157.7" r="1.28" class="g"/>
<circle cx="150.0" cy="164.2" r="1.28" class="g"/>
<circle cx="151.0" cy="160.7" r="1.28" class="g"/>
<circle cx="139.1" cy="90.8" r="1.28" class="o"/>
<circle cx="150.6" cy="96.1" r="1.28" class="o"/>
<circle cx="145.6" cy="99.7" r="1.28" class="o"/>
<circle cx="148.1" cy="91.4" r="1.28" class="o"/>
<circle cx="132.9" cy="92.1" r="1.28" class="o"/>
<circle cx="144.2" cy="92.8" r="1.28" class="o"/>
<circle cx="140.5" cy="97.3" r="1.28" class="o"/>
<circle cx="138.1" cy="95.3" r="1.28" class="o"/>
<circle cx="146.3" cy="89.0" r="1.28" class="o"/>
<circle cx="138.0" cy="88.6" r="1.28" class="o"/>
<circle cx="149.8" cy="99.7" r="1.28" class="o"/>
<circle cx="136.8" cy="100.1" r="1.28" class="o"/>
<circle cx="130.6" cy="99.6" r="1.28" class="o"/>
<circle cx="141.1" cy="92.4" r="1.28" class="o"/>
<circle cx="142.0" cy="100.4" r="1.28" class="o"/>
<circle cx="144.2" cy="98.7" r="1.28" class="o"/>
<circle cx="135.4" cy="92.3" r="1.28" class="o"/>
<circle cx="141.5" cy="86.5" r="1.28" class="o"/>
<circle cx="135.8" cy="95.1" r="1.28" class="o"/>
<circle cx="143.2" cy="86.5" r="1.28" class="o"/>
<circle cx="132.0" cy="96.1" r="1.28" class="o"/>
<circle cx="147.8" cy="94.5" r="1.28" class="o"/>
<circle cx="141.6" cy="89.1" r="1.28" class="o"/>
<circle cx="143.4" cy="94.8" r="1.28" class="o"/>
<circle cx="143.9" cy="89.6" r="1.28" class="o"/>
<circle cx="142.5" cy="96.6" r="1.28" class="o"/>
<circle cx="132.9" cy="98.5" r="1.28" class="o"/>
<circle cx="140.5" cy="95.7" r="1.28" class="o"/>
<circle cx="135.2" cy="98.2" r="1.28" class="o"/>
<circle cx="137.3" cy="97.7" r="1.28" class="o"/>
<circle cx="134.3" cy="94.1" r="1.28" class="o"/>
<circle cx="146.1" cy="96.7" r="1.28" class="o"/>
<circle cx="144.7" cy="97.1" r="1.28" class="o"/>
<circle cx="138.2" cy="93.0" r="1.28" class="o"/>
<circle cx="147.3" cy="121.4" r="1.28" class="o"/>
<circle cx="136.6" cy="105.0" r="1.28" class="o"/>
<circle cx="146.0" cy="133.8" r="1.28" class="o"/>
<circle cx="128.7" cy="128.4" r="1.28" class="o"/>
<circle cx="153.0" cy="106.6" r="1.28" class="o"/>
<circle cx="127.0" cy="106.9" r="1.28" class="o"/>
<circle cx="134.8" cy="117.8" r="1.28" class="o"/>
<circle cx="153.6" cy="115.7" r="1.28" class="o"/>
<circle cx="140.2" cy="112.1" r="1.28" class="o"/>
<circle cx="132.9" cy="133.1" r="1.28" class="o"/>
<circle cx="141.1" cy="104.6" r="1.28" class="o"/>
<circle cx="153.8" cy="123.5" r="1.28" class="o"/>
<circle cx="140.6" cy="129.9" r="1.28" class="o"/>
<circle cx="139.2" cy="123.3" r="1.28" class="o"/>
<circle cx="135.3" cy="110.9" r="1.28" class="o"/>
<circle cx="128.7" cy="114.9" r="1.28" class="o"/>
<circle cx="148.1" cy="117.7" r="1.28" class="o"/>
<circle cx="149.5" cy="101.1" r="1.28" class="o"/>
<circle cx="135.0" cy="128.2" r="1.28" class="o"/>
<circle cx="157.1" cy="113.0" r="1.28" class="o"/>
<circle cx="153.6" cy="129.6" r="1.28" class="o"/>
<circle cx="132.5" cy="123.0" r="1.28" class="o"/>
<circle cx="145.0" cy="127.2" r="1.28" class="o"/>
<circle cx="126.7" cy="102.7" r="1.28" class="o"/>
<circle cx="128.1" cy="111.1" r="1.28" class="o"/>
<circle cx="134.7" cy="113.9" r="1.28" class="o"/>
<circle cx="147.8" cy="111.6" r="1.28" class="o"/>
<circle cx="133.7" cy="101.4" r="1.28" class="o"/>
<circle cx="144.6" cy="116.1" r="1.28" class="o"/>
<circle cx="142.3" cy="118.0" r="1.28" class="o"/>
<circle cx="149.2" cy="124.2" r="1.28" class="o"/>
<circle cx="132.8" cy="107.2" r="1.28" class="o"/>
<circle cx="151.6" cy="122.3" r="1.28" class="o"/>
<circle cx="145.1" cy="102.4" r="1.28" class="o"/>
<circle cx="148.1" cy="106.0" r="1.28" class="o"/>
<circle cx="142.8" cy="132.3" r="1.28" class="o"/>
<circle cx="156.2" cy="117.0" r="1.28" class="o"/>
<circle cx="155.2" cy="103.4" r="1.28" class="o"/>
<circle cx="150.9" cy="118.6" r="1.28" class="o"/>
<circle cx="144.5" cy="110.6" r="1.28" class="o"/>
<circle cx="127.4" cy="123.6" r="1.28" class="o"/>
<circle cx="129.3" cy="134.0" r="1.28" class="o"/>
<circle cx="138.0" cy="120.0" r="1.28" class="o"/>
<circle cx="137.8" cy="127.1" r="1.28" class="o"/>
<circle cx="130.3" cy="123.4" r="1.28" class="o"/>
<circle cx="135.7" cy="125.0" r="1.28" class="o"/>
<circle cx="139.2" cy="117.6" r="1.28" class="o"/>
<circle cx="133.5" cy="125.8" r="1.28" class="o"/>
<circle cx="138.2" cy="109.1" r="1.28" class="o"/>
<circle cx="150.5" cy="131.9" r="1.28" class="o"/>
<circle cx="138.3" cy="114.2" r="1.28" class="o"/>
<circle cx="134.8" cy="122.8" r="1.28" class="o"/>
<circle cx="149.4" cy="127.2" r="1.28" class="o"/>
<circle cx="154.1" cy="112.1" r="1.28" class="o"/>
<circle cx="132.7" cy="118.4" r="1.28" class="o"/>
<circle cx="132.2" cy="115.3" r="1.28" class="o"/>
<circle cx="130.8" cy="119.9" r="1.28" class="o"/>
<circle cx="145.1" cy="107.7" r="1.28" class="o"/>
<circle cx="152.1" cy="102.0" r="1.28" class="o"/>
<circle cx="141.4" cy="125.3" r="1.28" class="o"/>
<circle cx="137.0" cy="132.8" r="1.28" class="o"/>
<circle cx="126.4" cy="119.9" r="1.28" class="o"/>
<circle cx="145.0" cy="118.0" r="1.28" class="o"/>
<circle cx="130.3" cy="107.9" r="1.28" class="o"/>
<circle cx="131.3" cy="113.2" r="1.28" class="o"/>
<circle cx="141.5" cy="116.4" r="1.28" class="o"/>
<circle cx="132.9" cy="130.1" r="1.28" class="o"/>
<circle cx="146.9" cy="115.1" r="1.28" class="o"/>
<circle cx="134.7" cy="108.3" r="1.28" class="o"/>
<circle cx="125.9" cy="116.7" r="1.28" class="o"/>
<circle cx="131.8" cy="103.5" r="1.28" class="o"/>
<circle cx="145.0" cy="130.7" r="1.28" class="o"/>
<circle cx="138.0" cy="101.9" r="1.28" class="o"/>
<circle cx="149.2" cy="108.7" r="1.28" class="o"/>
<circle cx="154.4" cy="120.6" r="1.28" class="o"/>
<circle cx="144.7" cy="121.7" r="1.28" class="o"/>
<circle cx="149.9" cy="106.7" r="1.28" class="o"/>
<circle cx="132.8" cy="113.5" r="1.28" class="o"/>
<circle cx="157.9" cy="110.2" r="1.28" class="o"/>
<circle cx="143.1" cy="104.3" r="1.28" class="o"/>
<circle cx="146.0" cy="125.1" r="1.28" class="o"/>
<circle cx="142.8" cy="114.1" r="1.28" class="o"/>
<circle cx="149.5" cy="110.5" r="1.28" class="o"/>
<circle cx="147.1" cy="129.5" r="1.28" class="o"/>
<circle cx="126.7" cy="126.5" r="1.28" class="o"/>
<circle cx="131.2" cy="128.4" r="1.28" class="o"/>
<circle cx="145.7" cy="118.9" r="1.28" class="o"/>
<circle cx="137.8" cy="112.4" r="1.28" class="o"/>
<circle cx="135.8" cy="119.9" r="1.28" class="o"/>
<circle cx="140.0" cy="120.4" r="1.28" class="o"/>
<circle cx="138.3" cy="131.2" r="1.28" class="o"/>
<circle cx="131.7" cy="134.2" r="1.28" class="o"/>
<circle cx="130.6" cy="131.9" r="1.28" class="o"/>
<circle cx="151.6" cy="120.0" r="1.28" class="o"/>
<circle cx="128.9" cy="104.2" r="1.28" class="o"/>
<circle cx="128.5" cy="131.3" r="1.28" class="o"/>
<circle cx="144.6" cy="132.6" r="1.28" class="o"/>
<circle cx="141.5" cy="122.7" r="1.28" class="o"/>
<circle cx="139.6" cy="115.7" r="1.28" class="o"/>
<circle cx="130.6" cy="105.9" r="1.28" class="o"/>
<circle cx="155.9" cy="111.5" r="1.28" class="o"/>
<circle cx="151.5" cy="115.4" r="1.28" class="o"/>
<circle cx="153.2" cy="126.5" r="1.28" class="o"/>
<circle cx="128.8" cy="117.6" r="1.28" class="o"/>
<circle cx="150.3" cy="134.2" r="1.28" class="o"/>
<circle cx="137.5" cy="107.0" r="1.28" class="o"/>
<circle cx="153.2" cy="108.4" r="1.28" class="o"/>
<circle cx="139.0" cy="133.2" r="1.28" class="o"/>
<circle cx="138.7" cy="125.6" r="1.28" class="o"/>
<circle cx="148.5" cy="103.5" r="1.28" class="o"/>
<circle cx="130.7" cy="110.2" r="1.28" class="o"/>
<circle cx="156.3" cy="105.0" r="1.28" class="o"/>
<circle cx="142.1" cy="110.0" r="1.28" class="o"/>
<circle cx="132.3" cy="110.6" r="1.28" class="o"/>
<circle cx="143.5" cy="100.0" r="1.28" class="o"/>
<circle cx="151.7" cy="117.1" r="1.28" class="o"/>
<circle cx="156.7" cy="119.2" r="1.28" class="o"/>
<circle cx="144.2" cy="124.3" r="1.28" class="o"/>
<circle cx="151.3" cy="113.4" r="1.28" class="o"/>
<circle cx="134.3" cy="104.2" r="1.28" class="o"/>
<circle cx="151.9" cy="123.7" r="1.28" class="o"/>
<circle cx="155.4" cy="125.6" r="1.28" class="o"/>
<circle cx="134.7" cy="133.3" r="1.28" class="o"/>
<circle cx="143.2" cy="117.5" r="1.28" class="o"/>
<circle cx="151.6" cy="107.2" r="1.28" class="o"/>
<circle cx="128.4" cy="129.8" r="1.28" class="o"/>
<circle cx="148.3" cy="131.3" r="1.28" class="o"/>
<circle cx="127.0" cy="113.9" r="1.28" class="o"/>
<circle cx="139.5" cy="106.2" r="1.28" class="o"/>
<circle cx="125.2" cy="109.8" r="1.28" class="o"/>
<circle cx="128.6" cy="125.7" r="1.28" class="o"/>
<circle cx="150.6" cy="102.0" r="1.28" class="o"/>
<circle cx="142.6" cy="106.9" r="1.28" class="o"/>
<circle cx="146.6" cy="113.2" r="1.28" class="o"/>
<circle cx="152.5" cy="104.9" r="1.28" class="o"/>
<circle cx="146.8" cy="103.0" r="1.28" class="o"/>
<circle cx="144.4" cy="106.1" r="1.28" class="o"/>
<circle cx="155.4" cy="107.2" r="1.28" class="o"/>
<circle cx="146.4" cy="117.4" r="1.28" class="o"/>
<circle cx="132.1" cy="100.7" r="1.28" class="o"/>
<circle cx="145.8" cy="111.3" r="1.28" class="o"/>
<circle cx="138.6" cy="129.1" r="1.28" class="o"/>
<circle cx="138.9" cy="111.7" r="1.28" class="o"/>
<circle cx="155.1" cy="109.4" r="1.28" class="o"/>
<circle cx="140.2" cy="100.4" r="1.28" class="o"/>
<circle cx="146.6" cy="131.3" r="1.28" class="o"/>
<circle cx="132.9" cy="102.6" r="1.28" class="o"/>
<circle cx="143.4" cy="120.5" r="1.28" class="o"/>
<circle cx="148.5" cy="130.0" r="1.28" class="o"/>
<circle cx="128.7" cy="102.3" r="1.28" class="o"/>
<circle cx="148.3" cy="135.0" r="1.28" class="o"/>
<circle cx="148.7" cy="115.3" r="1.28" class="o"/>
<circle cx="128.3" cy="108.5" r="1.28" class="o"/>
<circle cx="147.6" cy="110.7" r="1.28" class="o"/>
<circle cx="130.8" cy="126.8" r="1.28" class="o"/>
<circle cx="135.7" cy="123.7" r="1.28" class="o"/>
<circle cx="129.7" cy="100.9" r="1.28" class="o"/>
<circle cx="133.6" cy="111.7" r="1.28" class="o"/>
<circle cx="150.6" cy="121.5" r="1.28" class="o"/>
<circle cx="149.0" cy="119.9" r="1.28" class="o"/>
<circle cx="155.4" cy="123.1" r="1.28" class="o"/>
<circle cx="149.9" cy="104.7" r="1.28" class="o"/>
<circle cx="140.7" cy="102.2" r="1.28" class="o"/>
<circle cx="142.5" cy="134.4" r="1.28" class="o"/>
<circle cx="145.6" cy="122.5" r="1.28" class="o"/>
<circle cx="142.6" cy="102.5" r="1.28" class="o"/>
<circle cx="134.8" cy="130.0" r="1.28" class="o"/>
<circle cx="136.9" cy="115.7" r="1.28" class="o"/>
<circle cx="144.8" cy="109.0" r="1.28" class="o"/>
<circle cx="145.6" cy="100.4" r="1.28" class="o"/>
<circle cx="152.8" cy="118.5" r="1.28" class="o"/>
<circle cx="137.9" cy="121.9" r="1.28" class="o"/>
<circle cx="132.1" cy="126.0" r="1.28" class="o"/>
<circle cx="130.2" cy="130.1" r="1.28" class="o"/>
<circle cx="136.6" cy="111.3" r="1.28" class="o"/>
<circle cx="144.2" cy="128.9" r="1.28" class="o"/>
<circle cx="151.3" cy="130.1" r="1.28" class="o"/>
<circle cx="137.2" cy="130.0" r="1.28" class="o"/>
<circle cx="131.2" cy="146.7" r="1.28" class="o"/>
<circle cx="150.5" cy="150.1" r="1.28" class="o"/>
<circle cx="142.1" cy="136.1" r="1.28" class="o"/>
<circle cx="148.5" cy="137.0" r="1.28" class="o"/>
<circle cx="136.0" cy="152.5" r="1.28" class="o"/>
<circle cx="143.5" cy="149.1" r="1.28" class="o"/>
<circle cx="132.3" cy="139.4" r="1.28" class="o"/>
<circle cx="134.1" cy="142.8" r="1.28" class="o"/>
<circle cx="152.9" cy="142.0" r="1.28" class="o"/>
<circle cx="145.2" cy="144.8" r="1.28" class="o"/>
<circle cx="147.0" cy="140.3" r="1.28" class="o"/>
<circle cx="142.4" cy="154.5" r="1.28" class="o"/>
<circle cx="140.1" cy="145.2" r="1.28" class="o"/>
<circle cx="136.5" cy="137.1" r="1.28" class="o"/>
<circle cx="135.5" cy="148.4" r="1.28" class="o"/>
<circle cx="130.9" cy="135.3" r="1.28" class="o"/>
<circle cx="149.0" cy="153.6" r="1.28" class="o"/>
<circle cx="142.7" cy="146.7" r="1.28" class="o"/>
<circle cx="137.8" cy="147.1" r="1.28" class="o"/>
<circle cx="137.0" cy="144.3" r="1.28" class="o"/>
<circle cx="137.7" cy="139.6" r="1.28" class="o"/>
<circle cx="128.4" cy="143.8" r="1.28" class="o"/>
<circle cx="146.0" cy="150.1" r="1.28" class="o"/>
<circle cx="129.2" cy="138.4" r="1.28" class="o"/>
<circle cx="151.4" cy="138.7" r="1.28" class="o"/>
<circle cx="151.3" cy="145.6" r="1.28" class="o"/>
<circle cx="140.3" cy="153.8" r="1.28" class="o"/>
<circle cx="150.8" cy="152.0" r="1.28" class="o"/>
<circle cx="134.3" cy="137.5" r="1.28" class="o"/>
<circle cx="138.0" cy="150.3" r="1.28" class="o"/>
<circle cx="143.5" cy="142.2" r="1.28" class="o"/>
<circle cx="150.6" cy="142.4" r="1.28" class="o"/>
<circle cx="131.9" cy="142.2" r="1.28" class="o"/>
<circle cx="150.2" cy="135.1" r="1.28" class="o"/>
<circle cx="147.6" cy="147.5" r="1.28" class="o"/>
<circle cx="145.9" cy="137.7" r="1.28" class="o"/>
<circle cx="134.7" cy="140.6" r="1.28" class="o"/>
<circle cx="141.7" cy="139.9" r="1.28" class="o"/>
<circle cx="130.1" cy="141.1" r="1.28" class="o"/>
<circle cx="128.5" cy="147.1" r="1.28" class="o"/>
<circle cx="140.9" cy="151.2" r="1.28" class="o"/>
<circle cx="141.0" cy="145.9" r="1.28" class="o"/>
<circle cx="148.7" cy="144.9" r="1.28" class="o"/>
<circle cx="148.6" cy="141.9" r="1.28" class="o"/>
<circle cx="144.4" cy="139.2" r="1.28" class="o"/>
<circle cx="137.9" cy="153.9" r="1.28" class="o"/>
<circle cx="122.1" cy="127.6" r="1.28" class="o"/>
<circle cx="117.4" cy="138.0" r="1.28" class="o"/>
<circle cx="114.3" cy="118.4" r="1.28" class="o"/>
<circle cx="124.7" cy="134.7" r="1.28" class="o"/>
<circle cx="123.2" cy="141.9" r="1.28" class="o"/>
<circle cx="113.1" cy="131.3" r="1.28" class="o"/>
<circle cx="108.7" cy="122.6" r="1.28" class="o"/>
<circle cx="119.7" cy="121.5" r="1.28" class="o"/>
<circle cx="125.8" cy="121.6" r="1.28" class="o"/>
<circle cx="107.6" cy="127.4" r="1.28" class="o"/>
<circle cx="120.9" cy="136.9" r="1.28" class="o"/>
<circle cx="119.6" cy="140.6" r="1.28" class="o"/>
<circle cx="124.9" cy="128.3" r="1.28" class="o"/>
<circle cx="113.7" cy="137.8" r="1.28" class="o"/>
<circle cx="115.8" cy="123.4" r="1.28" class="o"/>
<circle cx="115.2" cy="127.1" r="1.28" class="o"/>
<circle cx="116.3" cy="140.4" r="1.28" class="o"/>
<circle cx="120.2" cy="133.0" r="1.28" class="o"/>
<circle cx="111.8" cy="135.1" r="1.28" class="o"/>
<circle cx="111.3" cy="125.5" r="1.28" class="o"/>
<circle cx="123.2" cy="118.9" r="1.28" class="o"/>
<circle cx="116.6" cy="131.1" r="1.28" class="o"/>
<circle cx="113.1" cy="123.2" r="1.28" class="o"/>
<circle cx="121.7" cy="118.4" r="1.28" class="o"/>
<circle cx="117.5" cy="132.9" r="1.28" class="o"/>
<circle cx="130.2" cy="168.2" r="1.28" class="o"/>
<circle cx="146.4" cy="165.2" r="1.28" class="o"/>
<circle cx="134.4" cy="173.7" r="1.28" class="o"/>
<circle cx="135.9" cy="166.5" r="1.28" class="o"/>
<circle cx="140.5" cy="157.8" r="1.28" class="o"/>
<circle cx="139.9" cy="170.3" r="1.28" class="o"/>
<circle cx="147.5" cy="155.4" r="1.28" class="o"/>
<circle cx="129.4" cy="159.0" r="1.28" class="o"/>
<circle cx="133.1" cy="156.1" r="1.28" class="o"/>
<circle cx="138.3" cy="174.9" r="1.28" class="o"/>
<circle cx="146.2" cy="170.7" r="1.28" class="o"/>
<circle cx="147.9" cy="167.4" r="1.28" class="o"/>
<circle cx="136.2" cy="160.1" r="1.28" class="o"/>
<circle cx="140.0" cy="160.5" r="1.28" class="o"/>
<circle cx="139.9" cy="166.4" r="1.28" class="o"/>
<circle cx="143.5" cy="167.3" r="1.28" class="o"/>
<circle cx="145.0" cy="161.6" r="1.28" class="o"/>
<circle cx="140.1" cy="155.3" r="1.28" class="o"/>
<circle cx="138.4" cy="168.3" r="1.28" class="o"/>
<circle cx="136.5" cy="156.4" r="1.28" class="o"/>
<circle cx="139.0" cy="163.4" r="1.28" class="o"/>
<circle cx="133.0" cy="170.9" r="1.28" class="o"/>
<circle cx="179.7" cy="144.4" r="1.28" class="o"/>
<circle cx="179.7" cy="117.4" r="1.28" class="o"/>
<circle cx="180.3" cy="103.0" r="1.28" class="o"/>
<circle cx="179.5" cy="127.5" r="1.28" class="o"/>
<circle cx="179.9" cy="134.3" r="1.28" class="o"/>
<circle cx="185.4" cy="109.9" r="1.28" class="o"/>
<circle cx="181.1" cy="109.0" r="1.28" class="o"/>
<circle cx="184.8" cy="136.6" r="1.28" class="o"/>
<circle cx="184.1" cy="141.9" r="1.28" class="o"/>
<circle cx="181.8" cy="114.0" r="1.28" class="o"/>
<circle cx="182.3" cy="121.5" r="1.28" class="o"/>
<circle cx="183.1" cy="126.3" r="1.28" class="o"/>
<circle cx="185.5" cy="122.0" r="1.28" class="o"/>
<circle cx="179.2" cy="139.7" r="1.28" class="o"/>
<circle cx="180.0" cy="124.3" r="1.28" class="o"/>
<circle cx="183.6" cy="129.6" r="1.28" class="o"/>
<circle cx="178.5" cy="111.6" r="1.28" class="o"/>
<circle cx="179.7" cy="130.1" r="1.28" class="o"/>
<circle cx="179.9" cy="110.9" r="1.28" class="o"/>
<circle cx="178.9" cy="137.6" r="1.28" class="o"/>
<circle cx="182.2" cy="120.0" r="1.28" class="o"/>
<circle cx="183.0" cy="139.1" r="1.28" class="o"/>
<circle cx="183.6" cy="104.1" r="1.28" class="o"/>
<circle cx="182.9" cy="112.0" r="1.28" class="o"/>
<circle cx="183.8" cy="119.7" r="1.28" class="o"/>
<circle cx="185.3" cy="116.3" r="1.28" class="o"/>
<circle cx="184.2" cy="113.9" r="1.28" class="o"/>
<circle cx="183.4" cy="132.6" r="1.28" class="o"/>
<circle cx="178.7" cy="106.7" r="1.28" class="o"/>
<circle cx="185.1" cy="111.9" r="1.28" class="o"/>
<circle cx="178.9" cy="122.1" r="1.28" class="o"/>
<circle cx="184.3" cy="123.7" r="1.28" class="o"/>
<circle cx="182.2" cy="105.5" r="1.28" class="o"/>
<circle cx="178.3" cy="115.2" r="1.28" class="o"/>
<circle cx="183.2" cy="109.9" r="1.28" class="o"/>
<circle cx="180.7" cy="106.7" r="1.28" class="o"/>
<circle cx="181.1" cy="146.3" r="1.28" class="o"/>
<circle cx="178.8" cy="132.6" r="1.28" class="o"/>
<circle cx="182.2" cy="102.8" r="1.28" class="o"/>
<circle cx="179.6" cy="113.8" r="1.28" class="o"/>
<circle cx="181.7" cy="118.3" r="1.28" class="o"/>
<circle cx="183.3" cy="107.6" r="1.28" class="o"/>
<circle cx="180.9" cy="138.1" r="1.28" class="o"/>
<circle cx="180.9" cy="133.2" r="1.28" class="o"/>
<circle cx="181.6" cy="131.3" r="1.28" class="o"/>
<circle cx="183.1" cy="134.7" r="1.28" class="o"/>
<circle cx="185.0" cy="134.8" r="1.28" class="o"/>
<circle cx="183.4" cy="117.3" r="1.28" class="o"/>
<circle cx="181.4" cy="103.4" r="1.28" class="o"/>
<circle cx="180.8" cy="140.6" r="1.28" class="o"/>
<circle cx="179.1" cy="119.0" r="1.28" class="o"/>
<circle cx="185.6" cy="120.1" r="1.28" class="o"/>
<circle cx="183.1" cy="115.1" r="1.28" class="o"/>
<circle cx="180.8" cy="122.2" r="1.28" class="o"/>
<circle cx="178.4" cy="103.2" r="1.28" class="o"/>
<circle cx="184.2" cy="137.3" r="1.28" class="o"/>
<circle cx="183.7" cy="105.3" r="1.28" class="o"/>
<circle cx="182.0" cy="123.6" r="1.28" class="o"/>
<circle cx="182.8" cy="144.4" r="1.28" class="o"/>
<circle cx="181.2" cy="126.5" r="1.28" class="o"/>
<circle cx="178.6" cy="104.9" r="1.28" class="o"/>
<circle cx="184.9" cy="140.2" r="1.28" class="o"/>
<circle cx="184.6" cy="128.3" r="1.28" class="o"/>
<circle cx="185.0" cy="118.2" r="1.28" class="o"/>
<circle cx="180.6" cy="143.6" r="1.28" class="o"/>
<circle cx="183.6" cy="124.8" r="1.28" class="o"/>
<circle cx="183.1" cy="136.0" r="1.28" class="o"/>
<circle cx="182.7" cy="131.4" r="1.28" class="o"/>
<circle cx="180.9" cy="135.0" r="1.28" class="o"/>
<circle cx="182.9" cy="143.0" r="1.28" class="o"/>
<circle cx="179.0" cy="110.0" r="1.28" class="o"/>
<circle cx="181.5" cy="137.3" r="1.28" class="o"/>
<circle cx="124.0" cy="90.0" r="1.28" class="o"/>
<circle cx="125.4" cy="96.8" r="1.28" class="o"/>
<circle cx="113.3" cy="100.5" r="1.28" class="o"/>
<circle cx="115.0" cy="110.2" r="1.28" class="o"/>
<circle cx="118.0" cy="113.0" r="1.28" class="o"/>
<circle cx="120.7" cy="111.6" r="1.28" class="o"/>
<circle cx="107.7" cy="114.8" r="1.28" class="o"/>
<circle cx="158.3" cy="119.9" r="1.28" class="o"/>
<circle cx="155.5" cy="115.7" r="1.28" class="o"/>
<circle cx="158.7" cy="120.0" r="1.28" class="o"/>
<circle cx="155.9" cy="104.6" r="1.28" class="o"/>
<circle cx="133.1" cy="166.7" r="1.28" class="o"/>
<circle cx="139.6" cy="167.2" r="1.28" class="o"/>
<circle cx="142.3" cy="169.5" r="1.28" class="o"/>
<circle cx="147.0" cy="169.0" r="1.28" class="o"/>
<circle cx="141.9" cy="174.0" r="1.28" class="o"/>
<circle cx="137.7" cy="177.3" r="1.28" class="o"/>
<circle cx="134.0" cy="179.6" r="1.28" class="o"/>
<circle cx="128.5" cy="170.4" r="1.28" class="o"/>
<circle cx="141.8" cy="174.5" r="1.28" class="o"/>
<circle cx="182.3" cy="146.3" r="1.28" class="o"/>
<circle cx="176.3" cy="104.2" r="1.28" class="o"/>
<circle cx="175.9" cy="107.0" r="1.28" class="o"/>
<circle cx="110.5" cy="181.1" r="1.28" class="b"/>
<circle cx="129.2" cy="197.8" r="1.28" class="b"/>
<circle cx="111.2" cy="196.2" r="1.28" class="b"/>
<circle cx="120.6" cy="180.9" r="1.28" class="b"/>
<circle cx="102.0" cy="195.6" r="1.28" class="b"/>
<circle cx="96.4" cy="186.5" r="1.28" class="b"/>
<circle cx="125.3" cy="187.9" r="1.28" class="b"/>
<circle cx="106.0" cy="187.6" r="1.28" class="b"/>
<circle cx="119.2" cy="188.1" r="1.28" class="b"/>
<circle cx="103.6" cy="182.5" r="1.28" class="b"/>
<circle cx="130.8" cy="189.9" r="1.28" class="b"/>
<circle cx="114.7" cy="182.7" r="1.28" class="b"/>
<circle cx="112.5" cy="189.7" r="1.28" class="b"/>
<circle cx="128.5" cy="186.9" r="1.28" class="b"/>
<circle cx="105.0" cy="196.3" r="1.28" class="b"/>
<circle cx="129.2" cy="182.6" r="1.28" class="b"/>
<circle cx="124.0" cy="191.9" r="1.28" class="b"/>
<circle cx="108.8" cy="192.4" r="1.28" class="b"/>
<circle cx="127.9" cy="190.0" r="1.28" class="b"/>
<circle cx="98.2" cy="192.7" r="1.28" class="b"/>
<circle cx="117.2" cy="194.5" r="1.28" class="b"/>
<circle cx="120.9" cy="193.3" r="1.28" class="b"/>
<circle cx="118.3" cy="190.6" r="1.28" class="b"/>
<circle cx="117.3" cy="180.1" r="1.28" class="b"/>
<circle cx="125.6" cy="195.5" r="1.28" class="b"/>
<circle cx="99.6" cy="186.0" r="1.28" class="b"/>
<circle cx="101.7" cy="185.4" r="1.28" class="b"/>
<circle cx="124.4" cy="185.2" r="1.28" class="b"/>
<circle cx="111.6" cy="192.3" r="1.28" class="b"/>
<circle cx="97.7" cy="182.6" r="1.28" class="b"/>
<circle cx="124.8" cy="181.5" r="1.28" class="b"/>
<circle cx="105.6" cy="191.5" r="1.28" class="b"/>
<circle cx="102.0" cy="189.4" r="1.28" class="b"/>
<circle cx="116.2" cy="188.7" r="1.28" class="b"/>
<circle cx="108.1" cy="183.6" r="1.28" class="b"/>
<circle cx="99.3" cy="183.8" r="1.28" class="b"/>
<circle cx="118.9" cy="181.3" r="1.28" class="b"/>
<circle cx="130.8" cy="186.6" r="1.28" class="b"/>
<circle cx="112.4" cy="194.2" r="1.28" class="b"/>
<circle cx="110.2" cy="188.3" r="1.28" class="b"/>
<circle cx="96.1" cy="183.9" r="1.28" class="b"/>
<circle cx="115.7" cy="194.3" r="1.28" class="b"/>
<circle cx="104.4" cy="183.8" r="1.28" class="b"/>
<circle cx="119.9" cy="195.4" r="1.28" class="b"/>
<circle cx="100.0" cy="194.4" r="1.28" class="b"/>
<circle cx="116.6" cy="184.9" r="1.28" class="b"/>
<circle cx="112.2" cy="187.6" r="1.28" class="b"/>
<circle cx="98.9" cy="188.6" r="1.28" class="b"/>
<circle cx="130.7" cy="191.8" r="1.28" class="b"/>
<circle cx="129.7" cy="194.5" r="1.28" class="b"/>
<circle cx="109.5" cy="195.1" r="1.28" class="b"/>
<circle cx="104.6" cy="189.5" r="1.28" class="b"/>
<circle cx="96.6" cy="188.7" r="1.28" class="b"/>
<circle cx="112.2" cy="183.7" r="1.28" class="b"/>
<circle cx="110.2" cy="191.2" r="1.28" class="b"/>
<circle cx="113.9" cy="194.2" r="1.28" class="b"/>
<circle cx="127.2" cy="193.2" r="1.28" class="b"/>
<circle cx="101.2" cy="183.4" r="1.28" class="b"/>
<circle cx="108.4" cy="186.5" r="1.28" class="b"/>
<circle cx="120.4" cy="186.0" r="1.28" class="b"/>
<circle cx="107.1" cy="181.2" r="1.28" class="b"/>
<circle cx="107.7" cy="190.9" r="1.28" class="b"/>
<circle cx="127.0" cy="197.2" r="1.28" class="b"/>
<circle cx="104.1" cy="194.2" r="1.28" class="b"/>
<circle cx="100.7" cy="182.1" r="1.28" class="b"/>
<polygon points="117.5,195.5 121.0,194.0 124.5,196.0 124.0,199.5 120.5,203.5 118.0,202.0 117.0,198.5" fill="#3a4857" stroke="#3a4857" stroke-width="1.2" stroke-linejoin="round"/>
<circle cx="119.4" cy="200.4" r="1.28" class="b"/>
<circle cx="123.3" cy="197.3" r="1.28" class="b"/>
<polygon points="137.1,191.0 141.5,188.2 147.0,187.1 149.7,189.3 145.9,192.6 141.5,193.7" fill="#3a4857" stroke="#3a4857" stroke-width="1.2" stroke-linejoin="round"/>
<circle cx="141.2" cy="193.2" r="1.28" class="b"/>
<circle cx="147.3" cy="188.5" r="1.28" class="b"/>
<circle cx="142.8" cy="189.0" r="1.28" class="b"/>
<circle cx="77.9" cy="169.0" r="1.28" class="b"/>
<circle cx="84.3" cy="165.8" r="1.28" class="b"/>
<circle cx="90.3" cy="174.0" r="1.28" class="b"/>
<circle cx="97.7" cy="176.4" r="1.28" class="b"/>
<circle cx="131.6" cy="199.2" r="1.28" class="b"/>
<circle cx="121.0" cy="179.6" r="1.28" class="b"/>
<circle cx="83.9" cy="165.0" r="1.28" class="b"/>
<circle cx="102.2" cy="165.9" r="1.28" class="y"/>
<circle cx="116.7" cy="177.0" r="1.28" class="y"/>
<circle cx="126.5" cy="170.9" r="1.28" class="y"/>
<circle cx="85.1" cy="173.2" r="1.28" class="y"/>
<circle cx="88.9" cy="148.5" r="1.28" class="y"/>
<circle cx="81.2" cy="160.5" r="1.28" class="y"/>
<circle cx="93.2" cy="163.2" r="1.28" class="y"/>
<circle cx="126.0" cy="157.5" r="1.28" class="y"/>
<circle cx="98.1" cy="179.6" r="1.28" class="y"/>
<circle cx="100.6" cy="153.0" r="1.28" class="y"/>
<circle cx="80.4" cy="154.2" r="1.28" class="y"/>
<circle cx="109.3" cy="180.8" r="1.28" class="y"/>
<circle cx="104.7" cy="171.6" r="1.28" class="y"/>
<circle cx="118.1" cy="171.4" r="1.28" class="y"/>
<circle cx="109.0" cy="157.2" r="1.28" class="y"/>
<circle cx="119.9" cy="164.6" r="1.28" class="y"/>
<circle cx="113.8" cy="165.4" r="1.28" class="y"/>
<circle cx="98.1" cy="163.0" r="1.28" class="y"/>
<circle cx="101.3" cy="174.2" r="1.28" class="y"/>
<circle cx="109.5" cy="168.9" r="1.28" class="y"/>
<circle cx="103.5" cy="183.8" r="1.28" class="y"/>
<circle cx="122.7" cy="177.4" r="1.28" class="y"/>
<circle cx="95.9" cy="156.5" r="1.28" class="y"/>
<circle cx="77.0" cy="159.3" r="1.28" class="y"/>
<circle cx="127.0" cy="164.1" r="1.28" class="y"/>
<circle cx="94.7" cy="182.9" r="1.28" class="y"/>
<circle cx="120.0" cy="181.4" r="1.28" class="y"/>
<circle cx="117.4" cy="183.0" r="1.28" class="y"/>
<circle cx="99.9" cy="158.8" r="1.28" class="y"/>
<circle cx="87.4" cy="159.6" r="1.28" class="y"/>
<circle cx="89.8" cy="176.6" r="1.28" class="y"/>
<circle cx="88.8" cy="166.8" r="1.28" class="y"/>
<circle cx="115.3" cy="158.5" r="1.28" class="y"/>
<circle cx="121.3" cy="173.9" r="1.28" class="y"/>
<circle cx="92.9" cy="152.2" r="1.28" class="y"/>
<circle cx="94.3" cy="178.9" r="1.28" class="y"/>
<circle cx="110.3" cy="165.1" r="1.28" class="y"/>
<circle cx="102.2" cy="169.1" r="1.28" class="y"/>
<circle cx="83.1" cy="156.3" r="1.28" class="y"/>
<circle cx="97.1" cy="149.9" r="1.28" class="y"/>
<circle cx="103.5" cy="154.3" r="1.28" class="y"/>
<circle cx="92.8" cy="146.8" r="1.28" class="y"/>
<circle cx="122.1" cy="158.2" r="1.28" class="y"/>
<circle cx="105.7" cy="164.5" r="1.28" class="y"/>
<circle cx="89.5" cy="171.4" r="1.28" class="y"/>
<circle cx="81.1" cy="168.2" r="1.28" class="y"/>
<circle cx="106.2" cy="160.6" r="1.28" class="y"/>
<circle cx="123.5" cy="165.3" r="1.28" class="y"/>
<circle cx="100.6" cy="187.3" r="1.28" class="y"/>
<circle cx="84.1" cy="147.3" r="1.28" class="y"/>
<circle cx="130.7" cy="174.2" r="1.28" class="y"/>
<circle cx="79.3" cy="150.5" r="1.28" class="y"/>
<circle cx="105.9" cy="169.9" r="1.28" class="y"/>
<circle cx="84.4" cy="167.6" r="1.28" class="y"/>
<circle cx="89.7" cy="180.1" r="1.28" class="y"/>
<circle cx="110.5" cy="161.6" r="1.28" class="y"/>
<circle cx="103.2" cy="179.9" r="1.28" class="y"/>
<circle cx="123.6" cy="155.5" r="1.28" class="y"/>
<circle cx="91.2" cy="158.8" r="1.28" class="y"/>
<circle cx="130.2" cy="167.5" r="1.28" class="y"/>
<circle cx="127.2" cy="174.5" r="1.28" class="y"/>
<circle cx="98.6" cy="167.6" r="1.28" class="y"/>
<circle cx="83.4" cy="159.8" r="1.28" class="y"/>
<circle cx="84.4" cy="164.1" r="1.28" class="y"/>
<circle cx="90.7" cy="160.7" r="1.28" class="y"/>
<circle cx="77.6" cy="153.5" r="1.28" class="y"/>
<circle cx="98.8" cy="171.5" r="1.28" class="y"/>
<circle cx="85.0" cy="151.3" r="1.28" class="y"/>
<circle cx="106.7" cy="186.3" r="1.28" class="y"/>
<circle cx="94.7" cy="154.4" r="1.28" class="y"/>
<circle cx="94.2" cy="166.1" r="1.28" class="y"/>
<circle cx="129.4" cy="160.1" r="1.28" class="y"/>
<circle cx="105.7" cy="176.9" r="1.28" class="y"/>
<circle cx="113.0" cy="172.1" r="1.28" class="y"/>
<circle cx="92.1" cy="168.7" r="1.28" class="y"/>
<circle cx="108.7" cy="175.1" r="1.28" class="y"/>
<circle cx="118.2" cy="156.4" r="1.28" class="y"/>
<circle cx="103.5" cy="159.5" r="1.28" class="y"/>
<circle cx="100.2" cy="183.6" r="1.28" class="y"/>
<circle cx="113.5" cy="181.7" r="1.28" class="y"/>
<circle cx="96.3" cy="175.2" r="1.28" class="y"/>
<circle cx="113.4" cy="156.3" r="1.28" class="y"/>
<circle cx="126.5" cy="159.2" r="1.28" class="y"/>
<circle cx="110.1" cy="185.2" r="1.28" class="y"/>
<circle cx="122.8" cy="169.6" r="1.28" class="y"/>
<circle cx="91.4" cy="181.5" r="1.28" class="y"/>
<circle cx="104.1" cy="181.3" r="1.28" class="y"/>
<circle cx="111.2" cy="177.4" r="1.28" class="y"/>
<circle cx="106.6" cy="155.3" r="1.28" class="y"/>
<circle cx="122.2" cy="172.1" r="1.28" class="y"/>
<circle cx="114.0" cy="185.2" r="1.28" class="y"/>
<circle cx="104.4" cy="157.0" r="1.28" class="y"/>
<circle cx="114.0" cy="161.9" r="1.28" class="y"/>
<circle cx="89.5" cy="163.1" r="1.28" class="y"/>
<circle cx="97.1" cy="184.2" r="1.28" class="y"/>
<circle cx="117.2" cy="163.8" r="1.28" class="y"/>
<circle cx="121.7" cy="179.5" r="1.28" class="y"/>
<circle cx="87.3" cy="164.8" r="1.28" class="y"/>
<circle cx="105.8" cy="174.1" r="1.28" class="y"/>
<circle cx="88.2" cy="146.1" r="1.28" class="y"/>
<circle cx="108.5" cy="161.1" r="1.28" class="y"/>
<circle cx="119.5" cy="159.1" r="1.28" class="y"/>
<circle cx="101.4" cy="178.0" r="1.28" class="y"/>
<circle cx="78.5" cy="162.5" r="1.28" class="y"/>
<circle cx="103.5" cy="166.3" r="1.28" class="y"/>
<circle cx="93.8" cy="158.9" r="1.28" class="y"/>
<circle cx="102.5" cy="161.7" r="1.28" class="y"/>
<circle cx="86.5" cy="154.3" r="1.28" class="y"/>
<circle cx="87.8" cy="150.8" r="1.28" class="y"/>
<circle cx="108.4" cy="172.3" r="1.28" class="y"/>
<circle cx="120.5" cy="170.5" r="1.28" class="y"/>
<circle cx="99.5" cy="155.3" r="1.28" class="y"/>
<circle cx="111.7" cy="183.4" r="1.28" class="y"/>
<circle cx="127.9" cy="167.9" r="1.28" class="y"/>
<circle cx="119.1" cy="177.4" r="1.28" class="y"/>
<circle cx="112.9" cy="167.6" r="1.28" class="y"/>
<circle cx="80.4" cy="152.2" r="1.28" class="y"/>
<circle cx="118.8" cy="167.2" r="1.28" class="y"/>
<circle cx="85.9" cy="148.3" r="1.28" class="y"/>
<circle cx="84.5" cy="154.0" r="1.28" class="y"/>
<circle cx="90.4" cy="155.1" r="1.28" class="y"/>
<circle cx="83.6" cy="170.5" r="1.28" class="y"/>
<circle cx="82.0" cy="163.1" r="1.28" class="y"/>
<circle cx="107.3" cy="164.4" r="1.28" class="y"/>
<circle cx="90.7" cy="150.7" r="1.28" class="y"/>
<circle cx="99.2" cy="175.8" r="1.28" class="y"/>
<circle cx="96.2" cy="168.3" r="1.28" class="y"/>
<circle cx="115.9" cy="170.9" r="1.28" class="y"/>
<circle cx="128.5" cy="176.2" r="1.28" class="y"/>
<circle cx="90.9" cy="178.8" r="1.28" class="y"/>
<circle cx="95.9" cy="181.5" r="1.28" class="y"/>
<circle cx="80.5" cy="158.3" r="1.28" class="y"/>
<circle cx="111.7" cy="158.2" r="1.28" class="y"/>
<circle cx="94.9" cy="176.7" r="1.28" class="y"/>
<circle cx="91.9" cy="167.0" r="1.28" class="y"/>
<circle cx="121.4" cy="166.6" r="1.28" class="y"/>
<circle cx="125.2" cy="175.4" r="1.28" class="y"/>
<circle cx="99.6" cy="164.7" r="1.28" class="y"/>
<circle cx="123.0" cy="161.1" r="1.28" class="y"/>
<circle cx="97.5" cy="153.7" r="1.28" class="y"/>
<circle cx="105.6" cy="183.2" r="1.28" class="y"/>
<circle cx="124.1" cy="159.0" r="1.28" class="y"/>
<circle cx="93.0" cy="177.1" r="1.28" class="y"/>
<circle cx="122.2" cy="155.1" r="1.28" class="y"/>
<circle cx="90.3" cy="174.4" r="1.28" class="y"/>
<circle cx="89.9" cy="168.8" r="1.28" class="y"/>
<circle cx="87.9" cy="174.4" r="1.28" class="y"/>
<circle cx="88.0" cy="172.8" r="1.28" class="y"/>
<circle cx="78.9" cy="158.4" r="1.28" class="y"/>
<circle cx="97.2" cy="176.6" r="1.28" class="y"/>
<circle cx="113.7" cy="178.2" r="1.28" class="y"/>
<circle cx="81.9" cy="149.7" r="1.28" class="y"/>
<circle cx="94.7" cy="151.1" r="1.28" class="y"/>
<circle cx="111.6" cy="160.1" r="1.28" class="y"/>
<circle cx="110.2" cy="163.9" r="1.28" class="y"/>
<circle cx="91.1" cy="147.6" r="1.28" class="y"/>
<circle cx="87.3" cy="156.8" r="1.28" class="y"/>
<circle cx="93.5" cy="148.9" r="1.28" class="y"/>
<circle cx="97.5" cy="160.4" r="1.28" class="y"/>
<circle cx="90.2" cy="152.6" r="1.28" class="y"/>
<circle cx="94.9" cy="179.9" r="1.28" class="y"/>
<circle cx="93.2" cy="180.8" r="1.28" class="y"/>
<circle cx="124.0" cy="168.0" r="1.28" class="y"/>
<circle cx="76.8" cy="156.0" r="1.28" class="y"/>
<circle cx="115.3" cy="174.7" r="1.28" class="y"/>
<circle cx="110.2" cy="170.9" r="1.28" class="y"/>
<circle cx="105.6" cy="166.9" r="1.28" class="y"/>
<circle cx="107.8" cy="166.1" r="1.28" class="y"/>
<circle cx="94.5" cy="161.9" r="1.28" class="y"/>
<circle cx="96.3" cy="164.7" r="1.28" class="y"/>
<circle cx="103.1" cy="175.5" r="1.28" class="y"/>
<circle cx="86.4" cy="161.3" r="1.28" class="y"/>
<circle cx="86.9" cy="169.2" r="1.28" class="y"/>
<circle cx="112.5" cy="175.5" r="1.28" class="y"/>
<circle cx="97.9" cy="151.5" r="1.28" class="y"/>
<circle cx="81.5" cy="153.1" r="1.28" class="y"/>
<circle cx="94.2" cy="172.8" r="1.28" class="y"/>
<circle cx="102.3" cy="156.8" r="1.28" class="y"/>
<circle cx="92.2" cy="176.0" r="1.28" class="y"/>
<circle cx="115.7" cy="156.4" r="1.28" class="y"/>
<circle cx="120.5" cy="177.9" r="1.28" class="y"/>
<circle cx="100.3" cy="180.6" r="1.28" class="y"/>
<circle cx="130.4" cy="169.2" r="1.28" class="y"/>
<circle cx="113.7" cy="163.7" r="1.28" class="y"/>
<circle cx="107.6" cy="179.3" r="1.28" class="y"/>
<circle cx="108.6" cy="155.5" r="1.28" class="y"/>
<circle cx="90.5" cy="145.7" r="1.28" class="y"/>
<circle cx="86.2" cy="157.5" r="1.28" class="y"/>
<circle cx="101.3" cy="171.1" r="1.28" class="y"/>
<circle cx="115.6" cy="167.0" r="1.28" class="y"/>
<circle cx="108.9" cy="165.2" r="1.28" class="y"/>
<circle cx="121.8" cy="163.1" r="1.28" class="y"/>
<circle cx="121.7" cy="175.9" r="1.28" class="y"/>
<circle cx="99.1" cy="187.4" r="1.28" class="y"/>
<circle cx="104.0" cy="164.0" r="1.28" class="y"/>
<circle cx="109.9" cy="177.7" r="1.28" class="y"/>
<circle cx="88.6" cy="154.1" r="1.28" class="y"/>
<circle cx="125.3" cy="172.2" r="1.28" class="y"/>
<circle cx="96.4" cy="172.7" r="1.28" class="y"/>
<circle cx="102.9" cy="186.9" r="1.28" class="y"/>
<circle cx="114.6" cy="168.7" r="1.28" class="y"/>
<circle cx="100.6" cy="168.5" r="1.28" class="y"/>
<circle cx="106.4" cy="180.2" r="1.28" class="y"/>
<circle cx="80.4" cy="162.5" r="1.28" class="y"/>
<circle cx="100.6" cy="162.3" r="1.28" class="y"/>
<circle cx="98.9" cy="157.3" r="1.28" class="y"/>
<circle cx="95.3" cy="170.7" r="1.28" class="y"/>
<circle cx="104.7" cy="179.6" r="1.28" class="y"/>
<circle cx="82.2" cy="146.6" r="1.28" class="y"/>
<circle cx="109.7" cy="173.8" r="1.28" class="y"/>
<circle cx="98.7" cy="169.1" r="1.28" class="y"/>
<circle cx="88.0" cy="147.3" r="1.28" class="y"/>
<circle cx="99.2" cy="161.3" r="1.28" class="y"/>
<circle cx="106.3" cy="159.1" r="1.28" class="y"/>
<circle cx="118.2" cy="170.0" r="1.28" class="y"/>
<circle cx="82.1" cy="165.3" r="1.28" class="y"/>
<circle cx="125.0" cy="164.7" r="1.28" class="y"/>
<circle cx="106.7" cy="178.7" r="1.28" class="y"/>
<circle cx="115.3" cy="180.0" r="1.28" class="y"/>
<circle cx="83.8" cy="146.2" r="1.28" class="y"/>
<circle cx="110.3" cy="155.4" r="1.28" class="y"/>
<circle cx="95.1" cy="148.0" r="1.28" class="y"/>
<circle cx="125.8" cy="166.5" r="1.28" class="y"/>
<circle cx="104.2" cy="176.3" r="1.28" class="y"/>
<circle cx="93.1" cy="161.1" r="1.28" class="y"/>
<circle cx="102.4" cy="171.6" r="1.28" class="y"/>
<circle cx="115.1" cy="182.7" r="1.28" class="y"/>
<circle cx="99.0" cy="174.1" r="1.28" class="y"/>
<circle cx="102.1" cy="183.5" r="1.28" class="y"/>
<circle cx="129.0" cy="166.5" r="1.28" class="y"/>
<circle cx="88.1" cy="170.0" r="1.28" class="y"/>
<circle cx="128.4" cy="173.1" r="1.28" class="y"/>
<circle cx="127.5" cy="157.2" r="1.28" class="y"/>
<circle cx="118.7" cy="179.1" r="1.28" class="y"/>
<circle cx="107.6" cy="183.2" r="1.28" class="y"/>
<circle cx="119.0" cy="157.6" r="1.28" class="y"/>
<circle cx="118.8" cy="163.6" r="1.28" class="y"/>
<circle cx="110.0" cy="159.9" r="1.28" class="y"/>
<circle cx="112.2" cy="179.7" r="1.28" class="y"/>
<circle cx="122.0" cy="167.8" r="1.28" class="y"/>
<circle cx="93.4" cy="157.2" r="1.28" class="y"/>
<circle cx="126.7" cy="162.9" r="1.28" class="y"/>
<circle cx="114.2" cy="175.7" r="1.28" class="y"/>
<circle cx="99.4" cy="186.4" r="1.28" class="y"/>
<circle cx="92.5" cy="170.9" r="1.28" class="y"/>
<circle cx="117.9" cy="161.7" r="1.28" class="y"/>
<circle cx="101.8" cy="187.7" r="1.28" class="y"/>
<circle cx="96.6" cy="157.3" r="1.28" class="y"/>
<circle cx="105.2" cy="181.9" r="1.28" class="y"/>
<circle cx="125.3" cy="162.9" r="1.28" class="y"/>
<circle cx="87.3" cy="177.8" r="1.28" class="y"/>
<circle cx="110.8" cy="166.8" r="1.28" class="y"/>
<circle cx="104.3" cy="174.1" r="1.28" class="y"/>
<circle cx="85.8" cy="162.6" r="1.28" class="y"/>
<circle cx="83.9" cy="172.1" r="1.28" class="y"/>
<circle cx="98.1" cy="165.4" r="1.28" class="y"/>
<circle cx="117.6" cy="157.6" r="1.28" class="y"/>
<circle cx="92.4" cy="164.5" r="1.28" class="y"/>
<circle cx="100.5" cy="167.0" r="1.28" class="y"/>
<circle cx="100.2" cy="172.2" r="1.28" class="y"/>
<circle cx="109.0" cy="167.3" r="1.28" class="y"/>
<circle cx="129.6" cy="170.8" r="1.28" class="y"/>
<circle cx="92.9" cy="155.6" r="1.28" class="y"/>
<circle cx="102.7" cy="155.4" r="1.28" class="y"/>
<circle cx="97.2" cy="171.5" r="1.28" class="y"/>
<circle cx="120.6" cy="157.1" r="1.28" class="y"/>
<circle cx="112.1" cy="169.5" r="1.28" class="y"/>
<circle cx="117.7" cy="173.8" r="1.28" class="y"/>
<circle cx="104.8" cy="155.3" r="1.28" class="y"/>
<circle cx="104.7" cy="162.2" r="1.28" class="y"/>
<circle cx="108.5" cy="163.6" r="1.28" class="y"/>
<circle cx="107.4" cy="168.3" r="1.28" class="y"/>
<circle cx="81.3" cy="161.6" r="1.28" class="y"/>
<circle cx="86.3" cy="166.3" r="1.28" class="y"/>
<circle cx="103.8" cy="158.0" r="1.28" class="y"/>
<circle cx="85.4" cy="160.6" r="1.28" class="y"/>
<circle cx="95.3" cy="152.4" r="1.28" class="y"/>
<circle cx="116.6" cy="165.5" r="1.28" class="y"/>
<circle cx="102.8" cy="164.0" r="1.28" class="y"/>
<circle cx="116.4" cy="168.2" r="1.28" class="y"/>
<circle cx="123.3" cy="160.0" r="1.28" class="y"/>
<circle cx="91.4" cy="172.8" r="1.28" class="y"/>
<circle cx="108.1" cy="169.1" r="1.28" class="y"/>
<circle cx="115.3" cy="162.7" r="1.28" class="y"/>
<circle cx="90.5" cy="157.2" r="1.28" class="y"/>
<circle cx="87.3" cy="167.8" r="1.28" class="y"/>
<circle cx="121.0" cy="156.4" r="1.28" class="y"/>
<circle cx="83.3" cy="165.0" r="1.28" class="y"/>
<circle cx="117.8" cy="160.4" r="1.28" class="y"/>
<circle cx="106.9" cy="162.0" r="1.28" class="y"/>
<circle cx="121.5" cy="160.8" r="1.28" class="y"/>
<circle cx="96.5" cy="186.0" r="1.28" class="y"/>
<circle cx="86.6" cy="152.1" r="1.28" class="y"/>
<circle cx="107.6" cy="156.4" r="1.28" class="y"/>
<circle cx="108.9" cy="186.6" r="1.28" class="y"/>
<circle cx="106.3" cy="184.5" r="1.28" class="y"/>
<circle cx="123.5" cy="157.7" r="1.28" class="y"/>
<circle cx="83.0" cy="181.3" r="1.28" class="y"/>
<circle cx="97.1" cy="190.0" r="1.28" class="y"/>
<circle cx="90.2" cy="184.1" r="1.28" class="y"/>
<circle cx="92.2" cy="195.8" r="1.28" class="y"/>
<circle cx="79.2" cy="176.6" r="1.28" class="y"/>
<circle cx="84.0" cy="186.5" r="1.28" class="y"/>
<circle cx="95.2" cy="197.7" r="1.28" class="y"/>
<circle cx="92.1" cy="188.3" r="1.28" class="y"/>
<circle cx="91.2" cy="190.7" r="1.28" class="y"/>
<circle cx="78.2" cy="179.0" r="1.28" class="y"/>
<circle cx="84.5" cy="183.6" r="1.28" class="y"/>
<circle cx="90.0" cy="188.2" r="1.28" class="y"/>
<circle cx="93.6" cy="195.5" r="1.28" class="y"/>
<circle cx="99.0" cy="196.4" r="1.28" class="y"/>
<circle cx="90.0" cy="193.6" r="1.28" class="y"/>
<circle cx="72.3" cy="149.2" r="1.28" class="y"/>
<circle cx="78.3" cy="142.8" r="1.28" class="y"/>
<circle cx="82.0" cy="143.2" r="1.28" class="y"/>
<circle cx="82.5" cy="140.5" r="1.28" class="y"/>
<circle cx="79.7" cy="148.8" r="1.28" class="y"/>
<circle cx="77.2" cy="134.3" r="1.28" class="y"/>
<circle cx="78.8" cy="178.7" r="1.28" class="y"/>
<circle cx="84.3" cy="182.9" r="1.28" class="y"/>
<circle cx="89.9" cy="188.0" r="1.28" class="y"/>
<circle cx="93.3" cy="196.4" r="1.28" class="y"/>
<circle cx="99.9" cy="196.4" r="1.28" class="y"/>
<circle cx="103.1" cy="193.7" r="1.28" class="y"/>
<circle cx="90.0" cy="194.2" r="1.28" class="y"/>
<circle cx="122.9" cy="192.0" r="1.28" class="y"/>
<circle cx="125.0" cy="195.9" r="1.28" class="y"/>
<circle cx="131.6" cy="156.5" r="1.28" class="y"/>
<circle cx="141.8" cy="164.8" r="1.28" class="y"/>
<circle cx="146.9" cy="156.0" r="1.28" class="y"/>
<circle cx="160.2" cy="147.2" r="1.28" class="y"/>
<circle cx="178.2" cy="129.2" r="1.28" class="y"/>
<circle cx="115.0" cy="148.0" r="1.28" class="y"/>
<circle cx="118.0" cy="150.0" r="1.28" class="y"/>
<circle cx="121.0" cy="152.0" r="1.28" class="y"/>
<circle cx="124.0" cy="153.0" r="1.28" class="y"/>
</g>
<g class="R">
<circle cx="390.5" cy="71.7" r="2.2" class="y"/>
<circle cx="375.1" cy="86.3" r="2.2" class="y"/>
<circle cx="395.4" cy="83.7" r="2.2" class="y"/>
<circle cx="403.3" cy="71.7" r="2.2" class="y"/>
<circle cx="381.7" cy="76.9" r="2.2" class="y"/>
<circle cx="366.2" cy="86.0" r="2.2" class="y"/>
<circle cx="387.6" cy="82.6" r="2.2" class="y"/>
<circle cx="380.1" cy="69.6" r="2.2" class="y"/>
<circle cx="367.3" cy="75.1" r="2.2" class="y"/>
<circle cx="377.4" cy="77.2" r="2.2" class="y"/>
<circle cx="371.4" cy="80.0" r="2.2" class="y"/>
<circle cx="397.5" cy="73.2" r="2.2" class="y"/>
<circle cx="359.1" cy="82.9" r="2.2" class="y"/>
<circle cx="391.7" cy="64.6" r="2.2" class="y"/>
<circle cx="403.7" cy="78.6" r="2.2" class="y"/>
<circle cx="398.3" cy="66.4" r="2.2" class="y"/>
<circle cx="385.4" cy="67.6" r="2.2" class="y"/>
<circle cx="392.4" cy="75.8" r="2.2" class="y"/>
<circle cx="395.7" cy="69.0" r="2.2" class="y"/>
<circle cx="362.3" cy="79.3" r="2.2" class="y"/>
<circle cx="380.7" cy="84.9" r="2.2" class="y"/>
<circle cx="390.8" cy="83.7" r="2.2" class="y"/>
<circle cx="403.5" cy="65.9" r="2.2" class="y"/>
<circle cx="388.6" cy="73.8" r="2.2" class="y"/>
<circle cx="397.3" cy="79.7" r="2.2" class="y"/>
<circle cx="375.1" cy="73.1" r="2.2" class="y"/>
<circle cx="373.1" cy="86.0" r="2.2" class="y"/>
<circle cx="405.8" cy="72.9" r="2.2" class="y"/>
<circle cx="383.8" cy="69.9" r="2.2" class="y"/>
<circle cx="387.4" cy="72.4" r="2.2" class="y"/>
<circle cx="374.8" cy="83.2" r="2.2" class="y"/>
<circle cx="386.7" cy="78.7" r="2.2" class="y"/>
<circle cx="398.6" cy="77.1" r="2.2" class="y"/>
<circle cx="375.1" cy="79.6" r="2.2" class="y"/>
<circle cx="377.8" cy="74.7" r="2.2" class="y"/>
<circle cx="367.1" cy="81.6" r="2.2" class="y"/>
<circle cx="402.7" cy="148.9" r="2.2" class="y"/>
<circle cx="439.3" cy="107.3" r="2.2" class="y"/>
<circle cx="422.0" cy="128.1" r="2.2" class="y"/>
<circle cx="443.2" cy="142.2" r="2.2" class="y"/>
<circle cx="417.9" cy="105.5" r="2.2" class="y"/>
<circle cx="421.0" cy="89.4" r="2.2" class="y"/>
<circle cx="454.0" cy="161.8" r="2.2" class="y"/>
<circle cx="439.3" cy="128.0" r="2.2" class="y"/>
<circle cx="429.8" cy="152.7" r="2.2" class="y"/>
<circle cx="412.4" cy="86.1" r="2.2" class="y"/>
<circle cx="405.7" cy="130.9" r="2.2" class="y"/>
<circle cx="417.4" cy="139.5" r="2.2" class="y"/>
<circle cx="420.4" cy="163.6" r="2.2" class="y"/>
<circle cx="456.0" cy="144.1" r="2.2" class="y"/>
<circle cx="436.5" cy="88.4" r="2.2" class="y"/>
<circle cx="425.7" cy="115.3" r="2.2" class="y"/>
<circle cx="428.9" cy="121.0" r="2.2" class="y"/>
<circle cx="412.3" cy="147.1" r="2.2" class="y"/>
<circle cx="454.5" cy="130.0" r="2.2" class="y"/>
<circle cx="425.9" cy="139.7" r="2.2" class="y"/>
<circle cx="433.5" cy="136.4" r="2.2" class="y"/>
<circle cx="427.9" cy="167.0" r="2.2" class="y"/>
<circle cx="443.9" cy="159.3" r="2.2" class="y"/>
<circle cx="433.9" cy="145.6" r="2.2" class="y"/>
<circle cx="434.3" cy="97.9" r="2.2" class="y"/>
<circle cx="413.5" cy="155.0" r="2.2" class="y"/>
<circle cx="448.3" cy="133.3" r="2.2" class="y"/>
<circle cx="451.8" cy="154.9" r="2.2" class="y"/>
<circle cx="422.1" cy="154.3" r="2.2" class="y"/>
<circle cx="411.7" cy="119.0" r="2.2" class="y"/>
<circle cx="408.7" cy="161.5" r="2.2" class="y"/>
<circle cx="434.4" cy="113.5" r="2.2" class="y"/>
<circle cx="448.2" cy="147.3" r="2.2" class="y"/>
<circle cx="430.0" cy="91.5" r="2.2" class="y"/>
<circle cx="451.8" cy="138.9" r="2.2" class="y"/>
<circle cx="409.9" cy="139.6" r="2.2" class="y"/>
<circle cx="428.1" cy="104.0" r="2.2" class="y"/>
<circle cx="414.5" cy="130.6" r="2.2" class="y"/>
<circle cx="421.3" cy="110.4" r="2.2" class="y"/>
<circle cx="432.3" cy="128.3" r="2.2" class="y"/>
<circle cx="446.9" cy="126.1" r="2.2" class="y"/>
<circle cx="431.5" cy="159.4" r="2.2" class="y"/>
<circle cx="414.3" cy="107.4" r="2.2" class="y"/>
<circle cx="437.8" cy="158.0" r="2.2" class="y"/>
<circle cx="423.4" cy="103.0" r="2.2" class="y"/>
<circle cx="442.5" cy="124.0" r="2.2" class="y"/>
<circle cx="401.0" cy="133.2" r="2.2" class="y"/>
<circle cx="437.6" cy="139.2" r="2.2" class="y"/>
<circle cx="438.1" cy="98.8" r="2.2" class="y"/>
<circle cx="405.9" cy="125.3" r="2.2" class="y"/>
<circle cx="413.0" cy="136.4" r="2.2" class="y"/>
<circle cx="434.0" cy="124.3" r="2.2" class="y"/>
<circle cx="416.5" cy="150.3" r="2.2" class="y"/>
<circle cx="453.1" cy="147.2" r="2.2" class="y"/>
<circle cx="436.6" cy="166.6" r="2.2" class="y"/>
<circle cx="432.9" cy="102.9" r="2.2" class="y"/>
<circle cx="425.7" cy="120.1" r="2.2" class="y"/>
<circle cx="403.1" cy="139.4" r="2.2" class="y"/>
<circle cx="421.8" cy="120.3" r="2.2" class="y"/>
<circle cx="410.2" cy="125.8" r="2.2" class="y"/>
<circle cx="429.3" cy="125.2" r="2.2" class="y"/>
<circle cx="409.7" cy="135.8" r="2.2" class="y"/>
<circle cx="454.7" cy="134.0" r="2.2" class="y"/>
<circle cx="403.0" cy="151.9" r="2.2" class="y"/>
<circle cx="433.3" cy="119.0" r="2.2" class="y"/>
<circle cx="434.3" cy="157.3" r="2.2" class="y"/>
<circle cx="427.5" cy="130.2" r="2.2" class="y"/>
<circle cx="422.0" cy="148.3" r="2.2" class="y"/>
<circle cx="401.1" cy="125.8" r="2.2" class="y"/>
<circle cx="413.9" cy="139.8" r="2.2" class="y"/>
<circle cx="405.7" cy="118.6" r="2.2" class="y"/>
<circle cx="439.6" cy="152.4" r="2.2" class="y"/>
<circle cx="416.7" cy="102.3" r="2.2" class="y"/>
<circle cx="416.9" cy="124.8" r="2.2" class="y"/>
<circle cx="429.7" cy="99.4" r="2.2" class="y"/>
<circle cx="447.8" cy="164.8" r="2.2" class="y"/>
<circle cx="417.3" cy="134.6" r="2.2" class="y"/>
<circle cx="422.1" cy="134.3" r="2.2" class="y"/>
<circle cx="435.3" cy="141.6" r="2.2" class="y"/>
<circle cx="420.5" cy="144.9" r="2.2" class="y"/>
<circle cx="430.5" cy="111.6" r="2.2" class="y"/>
<circle cx="424.3" cy="95.6" r="2.2" class="y"/>
<circle cx="429.7" cy="141.3" r="2.2" class="y"/>
<circle cx="444.1" cy="139.7" r="2.2" class="y"/>
<circle cx="439.7" cy="122.5" r="2.2" class="y"/>
<circle cx="439.4" cy="93.7" r="2.2" class="y"/>
<circle cx="440.0" cy="104.4" r="2.2" class="y"/>
<circle cx="429.1" cy="86.7" r="2.2" class="y"/>
<circle cx="417.7" cy="120.8" r="2.2" class="y"/>
<circle cx="434.5" cy="108.9" r="2.2" class="y"/>
<circle cx="431.5" cy="167.3" r="2.2" class="y"/>
<circle cx="417.1" cy="159.2" r="2.2" class="y"/>
<circle cx="428.8" cy="96.2" r="2.2" class="y"/>
<circle cx="414.2" cy="125.6" r="2.2" class="y"/>
<circle cx="437.0" cy="162.5" r="2.2" class="y"/>
<circle cx="425.2" cy="125.1" r="2.2" class="y"/>
<circle cx="427.1" cy="145.3" r="2.2" class="y"/>
<circle cx="429.2" cy="115.9" r="2.2" class="y"/>
<circle cx="438.7" cy="130.7" r="2.2" class="y"/>
<circle cx="409.5" cy="154.0" r="2.2" class="y"/>
<circle cx="403.6" cy="135.6" r="2.2" class="y"/>
<circle cx="430.2" cy="132.9" r="2.2" class="y"/>
<circle cx="440.7" cy="137.3" r="2.2" class="y"/>
<circle cx="441.6" cy="100.5" r="2.2" class="y"/>
<circle cx="418.5" cy="115.3" r="2.2" class="y"/>
<circle cx="439.2" cy="148.1" r="2.2" class="y"/>
<circle cx="447.2" cy="151.2" r="2.2" class="y"/>
<circle cx="410.9" cy="148.7" r="2.2" class="y"/>
<circle cx="421.8" cy="84.8" r="2.2" class="y"/>
<circle cx="426.5" cy="161.4" r="2.2" class="y"/>
<circle cx="423.3" cy="163.2" r="2.2" class="y"/>
<circle cx="427.2" cy="109.9" r="2.2" class="y"/>
<circle cx="441.9" cy="144.9" r="2.2" class="y"/>
<circle cx="423.2" cy="166.8" r="2.2" class="y"/>
<circle cx="421.0" cy="138.3" r="2.2" class="y"/>
<circle cx="437.6" cy="135.0" r="2.2" class="y"/>
<circle cx="403.1" cy="143.1" r="2.2" class="y"/>
<circle cx="455.7" cy="149.3" r="2.2" class="y"/>
<circle cx="452.6" cy="164.8" r="2.2" class="y"/>
<circle cx="430.1" cy="148.3" r="2.2" class="y"/>
<circle cx="422.0" cy="99.2" r="2.2" class="y"/>
<circle cx="435.6" cy="106.2" r="2.2" class="y"/>
<circle cx="414.6" cy="115.1" r="2.2" class="y"/>
<circle cx="442.7" cy="155.3" r="2.2" class="y"/>
<circle cx="446.7" cy="156.3" r="2.2" class="y"/>
<circle cx="427.3" cy="134.3" r="2.2" class="y"/>
<circle cx="445.5" cy="134.3" r="2.2" class="y"/>
<circle cx="410.7" cy="132.2" r="2.2" class="y"/>
<circle cx="454.0" cy="155.3" r="2.2" class="y"/>
<circle cx="448.4" cy="131.0" r="2.2" class="y"/>
<circle cx="438.1" cy="110.7" r="2.2" class="y"/>
<circle cx="409.0" cy="143.9" r="2.2" class="y"/>
<circle cx="432.2" cy="88.9" r="2.2" class="y"/>
<circle cx="434.5" cy="151.9" r="2.2" class="y"/>
<circle cx="440.8" cy="140.4" r="2.2" class="y"/>
<circle cx="451.7" cy="148.6" r="2.2" class="y"/>
<circle cx="408.1" cy="150.6" r="2.2" class="y"/>
<circle cx="418.1" cy="112.8" r="2.2" class="y"/>
<circle cx="425.3" cy="151.6" r="2.2" class="y"/>
<circle cx="426.5" cy="92.5" r="2.2" class="y"/>
<circle cx="416.7" cy="146.1" r="2.2" class="y"/>
<circle cx="418.7" cy="130.0" r="2.2" class="y"/>
<circle cx="360.1" cy="116.6" r="2.2" class="y"/>
<circle cx="372.7" cy="144.7" r="2.2" class="y"/>
<circle cx="397.1" cy="143.4" r="2.2" class="y"/>
<circle cx="392.5" cy="126.2" r="2.2" class="y"/>
<circle cx="351.9" cy="132.0" r="2.2" class="y"/>
<circle cx="369.7" cy="157.7" r="2.2" class="y"/>
<circle cx="378.8" cy="134.7" r="2.2" class="y"/>
<circle cx="377.9" cy="163.1" r="2.2" class="y"/>
<circle cx="389.1" cy="154.6" r="2.2" class="y"/>
<circle cx="391.4" cy="164.6" r="2.2" class="y"/>
<circle cx="357.8" cy="140.5" r="2.2" class="y"/>
<circle cx="346.8" cy="121.0" r="2.2" class="y"/>
<circle cx="369.5" cy="124.6" r="2.2" class="y"/>
<circle cx="350.2" cy="140.2" r="2.2" class="y"/>
<circle cx="391.9" cy="135.1" r="2.2" class="y"/>
<circle cx="358.8" cy="130.5" r="2.2" class="y"/>
<circle cx="381.8" cy="144.1" r="2.2" class="y"/>
<circle cx="352.2" cy="116.2" r="2.2" class="y"/>
<circle cx="393.5" cy="157.4" r="2.2" class="y"/>
<circle cx="384.8" cy="140.7" r="2.2" class="y"/>
<circle cx="399.5" cy="127.0" r="2.2" class="y"/>
<circle cx="372.0" cy="133.6" r="2.2" class="y"/>
<circle cx="368.2" cy="151.9" r="2.2" class="y"/>
<circle cx="389.1" cy="147.7" r="2.2" class="y"/>
<circle cx="401.0" cy="162.1" r="2.2" class="y"/>
<circle cx="379.0" cy="150.5" r="2.2" class="y"/>
<circle cx="375.8" cy="121.2" r="2.2" class="y"/>
<circle cx="354.2" cy="121.0" r="2.2" class="y"/>
<circle cx="341.3" cy="124.2" r="2.2" class="b"/>
<circle cx="313.9" cy="140.3" r="2.2" class="b"/>
<circle cx="357.7" cy="121.2" r="2.2" class="b"/>
<circle cx="325.1" cy="129.7" r="2.2" class="b"/>
<circle cx="330.0" cy="135.0" r="2.2" class="b"/>
<circle cx="352.2" cy="131.1" r="2.2" class="b"/>
<circle cx="316.2" cy="131.6" r="2.2" class="b"/>
<circle cx="347.3" cy="126.6" r="2.2" class="b"/>
<circle cx="329.4" cy="122.6" r="2.2" class="b"/>
<circle cx="357.2" cy="109.3" r="2.2" class="b"/>
<circle cx="333.1" cy="127.4" r="2.2" class="b"/>
<circle cx="347.7" cy="113.8" r="2.2" class="b"/>
<circle cx="358.8" cy="118.2" r="2.2" class="b"/>
<circle cx="347.1" cy="132.6" r="2.2" class="b"/>
<circle cx="324.3" cy="135.2" r="2.2" class="b"/>
<circle cx="342.2" cy="134.6" r="2.2" class="b"/>
<circle cx="357.4" cy="132.3" r="2.2" class="b"/>
<circle cx="332.6" cy="130.9" r="2.2" class="b"/>
<circle cx="335.5" cy="119.8" r="2.2" class="b"/>
<circle cx="337.2" cy="131.6" r="2.2" class="b"/>
<circle cx="322.0" cy="138.9" r="2.2" class="b"/>
<circle cx="352.1" cy="118.5" r="2.2" class="b"/>
<circle cx="328.4" cy="132.4" r="2.2" class="b"/>
<circle cx="314.8" cy="135.8" r="2.2" class="b"/>
<circle cx="351.5" cy="122.9" r="2.2" class="b"/>
<circle cx="357.5" cy="115.5" r="2.2" class="b"/>
<circle cx="354.8" cy="132.0" r="2.2" class="b"/>
<circle cx="319.7" cy="129.1" r="2.2" class="b"/>
<circle cx="359.4" cy="124.6" r="2.2" class="b"/>
<circle cx="336.3" cy="125.8" r="2.2" class="b"/>
<circle cx="349.4" cy="133.7" r="2.2" class="b"/>
<circle cx="342.7" cy="130.0" r="2.2" class="b"/>
<circle cx="341.6" cy="116.7" r="2.2" class="b"/>
<circle cx="342.1" cy="127.5" r="2.2" class="b"/>
<circle cx="353.7" cy="112.4" r="2.2" class="b"/>
<circle cx="344.9" cy="118.0" r="2.2" class="b"/>
<circle cx="354.8" cy="129.2" r="2.2" class="b"/>
<circle cx="354.7" cy="119.8" r="2.2" class="b"/>
<circle cx="355.2" cy="124.6" r="2.2" class="b"/>
<circle cx="322.7" cy="132.4" r="2.2" class="b"/>
<circle cx="360.1" cy="127.8" r="2.2" class="b"/>
<circle cx="338.2" cy="121.3" r="2.2" class="b"/>
<circle cx="324.1" cy="126.1" r="2.2" class="b"/>
<circle cx="310.7" cy="139.1" r="2.2" class="b"/>
<circle cx="354.7" cy="107.6" r="2.2" class="b"/>
<circle cx="332.6" cy="137.1" r="2.2" class="b"/>
<circle cx="352.1" cy="112.6" r="2.2" class="b"/>
<circle cx="339.1" cy="135.1" r="2.2" class="b"/>
<circle cx="349.0" cy="123.8" r="2.2" class="b"/>
<circle cx="343.4" cy="132.6" r="2.2" class="b"/>
<circle cx="335.2" cy="133.5" r="2.2" class="b"/>
<circle cx="346.5" cy="123.3" r="2.2" class="b"/>
<circle cx="331.5" cy="125.2" r="2.2" class="b"/>
<circle cx="344.0" cy="123.2" r="2.2" class="b"/>
<circle cx="349.1" cy="115.9" r="2.2" class="b"/>
<circle cx="340.1" cy="129.1" r="2.2" class="b"/>
<circle cx="332.1" cy="122.8" r="2.2" class="b"/>
<circle cx="320.6" cy="134.3" r="2.2" class="b"/>
<circle cx="355.8" cy="117.4" r="2.2" class="b"/>
<circle cx="316.4" cy="138.2" r="2.2" class="b"/>
<circle cx="349.2" cy="112.4" r="2.2" class="b"/>
<circle cx="326.4" cy="126.4" r="2.2" class="b"/>
<circle cx="320.0" cy="131.3" r="2.2" class="b"/>
<circle cx="360.3" cy="114.9" r="2.2" class="b"/>
<circle cx="361.7" cy="119.2" r="2.2" class="b"/>
<circle cx="339.7" cy="118.8" r="2.2" class="b"/>
<circle cx="330.0" cy="128.7" r="2.2" class="b"/>
<circle cx="347.2" cy="130.0" r="2.2" class="b"/>
<circle cx="319.1" cy="137.4" r="2.2" class="b"/>
<circle cx="344.8" cy="133.9" r="2.2" class="b"/>
<circle cx="317.8" cy="140.3" r="2.2" class="b"/>
<circle cx="327.8" cy="137.7" r="2.2" class="b"/>
<circle cx="325.5" cy="133.1" r="2.2" class="b"/>
<circle cx="340.8" cy="121.7" r="2.2" class="b"/>
<circle cx="358.3" cy="108.0" r="2.2" class="b"/>
<circle cx="336.4" cy="137.5" r="2.2" class="b"/>
<circle cx="359.6" cy="111.6" r="2.2" class="b"/>
<circle cx="350.1" cy="121.2" r="2.2" class="b"/>
<circle cx="325.5" cy="124.2" r="2.2" class="b"/>
<circle cx="358.0" cy="129.5" r="2.2" class="b"/>
<circle cx="340.6" cy="132.1" r="2.2" class="b"/>
<circle cx="344.8" cy="120.3" r="2.2" class="b"/>
<circle cx="356.5" cy="127.6" r="2.2" class="b"/>
<circle cx="323.0" cy="130.7" r="2.2" class="b"/>
<circle cx="333.2" cy="134.1" r="2.2" class="b"/>
<circle cx="357.9" cy="105.1" r="2.2" class="b"/>
<circle cx="318.7" cy="127.6" r="2.2" class="b"/>
<circle cx="358.1" cy="111.2" r="2.2" class="b"/>
<circle cx="347.7" cy="120.6" r="2.2" class="b"/>
<circle cx="321.0" cy="128.1" r="2.2" class="b"/>
<circle cx="344.0" cy="115.7" r="2.2" class="b"/>
<circle cx="335.6" cy="122.5" r="2.2" class="b"/>
<circle cx="355.6" cy="111.2" r="2.2" class="b"/>
<circle cx="335.2" cy="127.1" r="2.2" class="b"/>
<circle cx="329.7" cy="126.2" r="2.2" class="b"/>
<circle cx="322.3" cy="136.9" r="2.2" class="b"/>
<circle cx="347.5" cy="115.1" r="2.2" class="b"/>
<circle cx="335.3" cy="130.3" r="2.2" class="b"/>
<circle cx="344.2" cy="125.3" r="2.2" class="b"/>
<circle cx="333.3" cy="124.7" r="2.2" class="b"/>
<circle cx="334.7" cy="136.5" r="2.2" class="b"/>
<circle cx="334.2" cy="123.2" r="2.2" class="b"/>
<circle cx="350.4" cy="109.8" r="2.2" class="b"/>
<circle cx="351.8" cy="123.9" r="2.2" class="b"/>
<circle cx="342.4" cy="120.4" r="2.2" class="b"/>
<circle cx="314.1" cy="141.5" r="2.2" class="b"/>
<circle cx="329.2" cy="133.7" r="2.2" class="b"/>
<circle cx="326.8" cy="136.8" r="2.2" class="b"/>
<circle cx="354.1" cy="115.8" r="2.2" class="b"/>
<circle cx="353.8" cy="122.3" r="2.2" class="b"/>
<circle cx="360.3" cy="129.7" r="2.2" class="b"/>
<circle cx="339.1" cy="125.3" r="2.2" class="b"/>
<circle cx="353.2" cy="126.3" r="2.2" class="b"/>
<circle cx="325.6" cy="138.3" r="2.2" class="b"/>
<circle cx="356.9" cy="125.1" r="2.2" class="b"/>
<circle cx="355.6" cy="114.0" r="2.2" class="b"/>
<circle cx="321.9" cy="131.5" r="2.2" class="b"/>
<circle cx="345.5" cy="128.0" r="2.2" class="b"/>
<circle cx="352.1" cy="114.3" r="2.2" class="b"/>
<circle cx="353.2" cy="131.7" r="2.2" class="b"/>
<circle cx="346.1" cy="112.8" r="2.2" class="b"/>
<circle cx="326.5" cy="125.0" r="2.2" class="b"/>
<circle cx="328.2" cy="128.5" r="2.2" class="b"/>
<circle cx="316.2" cy="132.9" r="2.2" class="b"/>
<circle cx="324.4" cy="138.0" r="2.2" class="b"/>
<circle cx="315.7" cy="140.7" r="2.2" class="b"/>
<circle cx="317.5" cy="128.4" r="2.2" class="b"/>
<circle cx="349.0" cy="127.3" r="2.2" class="b"/>
<circle cx="355.7" cy="125.8" r="2.2" class="b"/>
<circle cx="364.9" cy="101.0" r="2.2" class="b"/>
<circle cx="407.0" cy="89.1" r="2.2" class="b"/>
<circle cx="404.2" cy="116.1" r="2.2" class="b"/>
<circle cx="387.3" cy="88.4" r="2.2" class="b"/>
<circle cx="435.0" cy="82.0" r="2.2" class="b"/>
<circle cx="375.1" cy="118.0" r="2.2" class="b"/>
<circle cx="375.4" cy="91.9" r="2.2" class="b"/>
<circle cx="393.1" cy="105.8" r="2.2" class="b"/>
<circle cx="391.0" cy="115.0" r="2.2" class="b"/>
<circle cx="378.8" cy="100.3" r="2.2" class="b"/>
<circle cx="413.6" cy="81.9" r="2.2" class="b"/>
<circle cx="367.1" cy="110.4" r="2.2" class="b"/>
<circle cx="420.0" cy="92.7" r="2.2" class="b"/>
<circle cx="396.5" cy="88.7" r="2.2" class="b"/>
<circle cx="397.8" cy="111.7" r="2.2" class="b"/>
<circle cx="361.1" cy="126.2" r="2.2" class="b"/>
<circle cx="381.3" cy="108.9" r="2.2" class="b"/>
<circle cx="375.2" cy="125.5" r="2.2" class="b"/>
<circle cx="392.5" cy="95.9" r="2.2" class="b"/>
<circle cx="405.3" cy="102.4" r="2.2" class="b"/>
<circle cx="384.2" cy="118.4" r="2.2" class="b"/>
<circle cx="379.8" cy="94.0" r="2.2" class="b"/>
<circle cx="374.1" cy="98.5" r="2.2" class="b"/>
<circle cx="374.7" cy="106.5" r="2.2" class="b"/>
<circle cx="419.2" cy="96.9" r="2.2" class="b"/>
<circle cx="401.8" cy="108.7" r="2.2" class="b"/>
<circle cx="368.1" cy="116.9" r="2.2" class="b"/>
<circle cx="420.3" cy="81.2" r="2.2" class="b"/>
<circle cx="430.8" cy="87.0" r="2.2" class="b"/>
<circle cx="387.0" cy="98.0" r="2.2" class="b"/>
<circle cx="378.0" cy="112.8" r="2.2" class="b"/>
<circle cx="362.9" cy="95.9" r="2.2" class="b"/>
<circle cx="358.6" cy="105.8" r="2.2" class="b"/>
<circle cx="370.3" cy="93.8" r="2.2" class="b"/>
<circle cx="408.0" cy="84.4" r="2.2" class="b"/>
<circle cx="363.2" cy="120.0" r="2.2" class="b"/>
<circle cx="423.3" cy="86.5" r="2.2" class="b"/>
<circle cx="363.7" cy="129.9" r="2.2" class="b"/>
<circle cx="401.2" cy="113.5" r="2.2" class="b"/>
<circle cx="370.0" cy="102.1" r="2.2" class="b"/>
<circle cx="409.6" cy="95.5" r="2.2" class="b"/>
<circle cx="383.7" cy="93.3" r="2.2" class="b"/>
<circle cx="395.8" cy="110.1" r="2.2" class="b"/>
<circle cx="416.6" cy="99.7" r="2.2" class="b"/>
<circle cx="395.9" cy="100.2" r="2.2" class="b"/>
<circle cx="413.3" cy="88.9" r="2.2" class="b"/>
<circle cx="384.8" cy="103.0" r="2.2" class="b"/>
<circle cx="360.7" cy="110.7" r="2.2" class="b"/>
<circle cx="395.8" cy="118.0" r="2.2" class="b"/>
<circle cx="396.5" cy="93.3" r="2.2" class="b"/>
<circle cx="392.4" cy="84.5" r="2.2" class="b"/>
<circle cx="405.5" cy="98.1" r="2.2" class="b"/>
<circle cx="379.3" cy="123.0" r="2.2" class="b"/>
<circle cx="388.6" cy="92.3" r="2.2" class="b"/>
<circle cx="379.7" cy="119.2" r="2.2" class="b"/>
<circle cx="411.7" cy="112.0" r="2.2" class="b"/>
<circle cx="420.0" cy="86.6" r="2.2" class="b"/>
<circle cx="400.0" cy="85.9" r="2.2" class="b"/>
<circle cx="368.5" cy="122.8" r="2.2" class="b"/>
<circle cx="427.3" cy="81.8" r="2.2" class="b"/>
<circle cx="369.5" cy="127.4" r="2.2" class="b"/>
<circle cx="367.1" cy="99.4" r="2.2" class="b"/>
<circle cx="400.3" cy="97.8" r="2.2" class="b"/>
<circle cx="398.0" cy="107.2" r="2.2" class="b"/>
<circle cx="395.1" cy="113.6" r="2.2" class="b"/>
<circle cx="387.8" cy="115.9" r="2.2" class="b"/>
<circle cx="402.1" cy="89.6" r="2.2" class="b"/>
<circle cx="422.4" cy="97.5" r="2.2" class="b"/>
<circle cx="363.4" cy="116.6" r="2.2" class="b"/>
<circle cx="406.7" cy="107.2" r="2.2" class="b"/>
<circle cx="390.1" cy="105.2" r="2.2" class="b"/>
<circle cx="426.9" cy="90.1" r="2.2" class="b"/>
<circle cx="371.7" cy="105.5" r="2.2" class="b"/>
<circle cx="403.8" cy="81.6" r="2.2" class="b"/>
<circle cx="392.8" cy="117.5" r="2.2" class="b"/>
<circle cx="366.4" cy="126.0" r="2.2" class="b"/>
<circle cx="382.2" cy="97.0" r="2.2" class="b"/>
<circle cx="381.8" cy="114.6" r="2.2" class="b"/>
<circle cx="413.9" cy="106.5" r="2.2" class="b"/>
<circle cx="410.8" cy="90.9" r="2.2" class="b"/>
<circle cx="385.1" cy="109.5" r="2.2" class="b"/>
<circle cx="411.9" cy="100.1" r="2.2" class="b"/>
<circle cx="387.6" cy="102.0" r="2.2" class="b"/>
<circle cx="404.2" cy="110.7" r="2.2" class="b"/>
<circle cx="374.6" cy="110.5" r="2.2" class="b"/>
<circle cx="377.6" cy="89.9" r="2.2" class="b"/>
<circle cx="359.7" cy="100.6" r="2.2" class="b"/>
<circle cx="397.2" cy="84.4" r="2.2" class="b"/>
<circle cx="414.3" cy="103.5" r="2.2" class="b"/>
<circle cx="394.2" cy="90.5" r="2.2" class="b"/>
<circle cx="393.0" cy="101.2" r="2.2" class="b"/>
<circle cx="407.2" cy="113.7" r="2.2" class="b"/>
<circle cx="416.5" cy="89.6" r="2.2" class="b"/>
<circle cx="415.0" cy="93.8" r="2.2" class="b"/>
<circle cx="406.2" cy="81.9" r="2.2" class="b"/>
<circle cx="425.6" cy="79.6" r="2.2" class="b"/>
<circle cx="379.6" cy="88.7" r="2.2" class="b"/>
<circle cx="362.2" cy="103.5" r="2.2" class="b"/>
<circle cx="361.0" cy="130.9" r="2.2" class="b"/>
<circle cx="398.5" cy="101.1" r="2.2" class="b"/>
<circle cx="390.9" cy="110.2" r="2.2" class="b"/>
<circle cx="371.3" cy="117.6" r="2.2" class="b"/>
<circle cx="430.5" cy="84.6" r="2.2" class="b"/>
<circle cx="372.1" cy="100.8" r="2.2" class="b"/>
<circle cx="390.4" cy="120.8" r="2.2" class="b"/>
<circle cx="383.6" cy="88.8" r="2.2" class="b"/>
<circle cx="421.1" cy="89.5" r="2.2" class="b"/>
<circle cx="377.8" cy="93.4" r="2.2" class="b"/>
<circle cx="367.4" cy="103.1" r="2.2" class="b"/>
<circle cx="402.0" cy="83.4" r="2.2" class="b"/>
<circle cx="380.5" cy="104.3" r="2.2" class="b"/>
<circle cx="377.0" cy="97.2" r="2.2" class="b"/>
<circle cx="383.1" cy="112.1" r="2.2" class="b"/>
<circle cx="370.7" cy="96.6" r="2.2" class="b"/>
<circle cx="390.0" cy="100.7" r="2.2" class="b"/>
<circle cx="391.4" cy="91.3" r="2.2" class="b"/>
<circle cx="403.0" cy="103.5" r="2.2" class="b"/>
<circle cx="371.3" cy="111.2" r="2.2" class="b"/>
<circle cx="364.1" cy="98.4" r="2.2" class="b"/>
<circle cx="398.1" cy="87.0" r="2.2" class="b"/>
<circle cx="365.3" cy="116.4" r="2.2" class="b"/>
<circle cx="412.3" cy="108.4" r="2.2" class="b"/>
<circle cx="385.6" cy="113.8" r="2.2" class="b"/>
<circle cx="374.3" cy="123.4" r="2.2" class="b"/>
<circle cx="403.2" cy="95.4" r="2.2" class="b"/>
<circle cx="412.3" cy="96.4" r="2.2" class="b"/>
<circle cx="398.3" cy="116.2" r="2.2" class="b"/>
<circle cx="365.3" cy="103.0" r="2.2" class="b"/>
<circle cx="402.8" cy="106.1" r="2.2" class="b"/>
<circle cx="400.2" cy="93.4" r="2.2" class="b"/>
<circle cx="375.6" cy="114.5" r="2.2" class="b"/>
<circle cx="381.0" cy="90.9" r="2.2" class="b"/>
<circle cx="388.9" cy="89.9" r="2.2" class="b"/>
<circle cx="388.5" cy="85.9" r="2.2" class="b"/>
<circle cx="375.7" cy="100.3" r="2.2" class="b"/>
<circle cx="375.0" cy="103.2" r="2.2" class="b"/>
<circle cx="401.3" cy="116.2" r="2.2" class="b"/>
<circle cx="388.7" cy="118.7" r="2.2" class="b"/>
<circle cx="377.3" cy="107.6" r="2.2" class="b"/>
<circle cx="408.5" cy="110.0" r="2.2" class="b"/>
<circle cx="369.2" cy="92.5" r="2.2" class="b"/>
<circle cx="427.8" cy="91.5" r="2.2" class="b"/>
<circle cx="409.1" cy="113.9" r="2.2" class="b"/>
<circle cx="418.2" cy="91.2" r="2.2" class="b"/>
<circle cx="371.8" cy="121.5" r="2.2" class="b"/>
<circle cx="378.8" cy="110.0" r="2.2" class="b"/>
<circle cx="397.2" cy="98.3" r="2.2" class="b"/>
<circle cx="398.7" cy="96.8" r="2.2" class="b"/>
<circle cx="368.3" cy="106.0" r="2.2" class="b"/>
<circle cx="395.5" cy="105.4" r="2.2" class="b"/>
<circle cx="417.1" cy="93.6" r="2.2" class="b"/>
<circle cx="404.2" cy="91.4" r="2.2" class="b"/>
<circle cx="371.7" cy="98.7" r="2.2" class="b"/>
<circle cx="403.5" cy="99.4" r="2.2" class="b"/>
<circle cx="367.0" cy="96.1" r="2.2" class="b"/>
<circle cx="363.9" cy="106.5" r="2.2" class="b"/>
<circle cx="407.1" cy="93.2" r="2.2" class="b"/>
<circle cx="386.1" cy="99.4" r="2.2" class="b"/>
<circle cx="366.7" cy="93.3" r="2.2" class="b"/>
<circle cx="395.3" cy="96.3" r="2.2" class="b"/>
<circle cx="404.6" cy="105.0" r="2.2" class="b"/>
<circle cx="359.6" cy="108.0" r="2.2" class="b"/>
<circle cx="392.9" cy="86.9" r="2.2" class="b"/>
<circle cx="377.2" cy="102.3" r="2.2" class="b"/>
<circle cx="388.7" cy="96.8" r="2.2" class="b"/>
<circle cx="380.4" cy="112.9" r="2.2" class="b"/>
<circle cx="424.6" cy="83.0" r="2.2" class="b"/>
<circle cx="431.1" cy="78.8" r="2.2" class="b"/>
<circle cx="378.5" cy="98.0" r="2.2" class="b"/>
<circle cx="398.7" cy="90.5" r="2.2" class="b"/>
<circle cx="394.4" cy="93.4" r="2.2" class="b"/>
<circle cx="361.5" cy="98.0" r="2.2" class="b"/>
<circle cx="378.9" cy="114.5" r="2.2" class="b"/>
<circle cx="372.1" cy="125.9" r="2.2" class="b"/>
<circle cx="380.7" cy="121.4" r="2.2" class="b"/>
<circle cx="381.2" cy="106.6" r="2.2" class="b"/>
<circle cx="364.4" cy="122.5" r="2.2" class="b"/>
<circle cx="373.9" cy="90.6" r="2.2" class="b"/>
<circle cx="397.8" cy="103.4" r="2.2" class="b"/>
<circle cx="390.6" cy="111.6" r="2.2" class="b"/>
<circle cx="363.0" cy="127.0" r="2.2" class="b"/>
<circle cx="364.4" cy="110.5" r="2.2" class="b"/>
<circle cx="387.6" cy="104.6" r="2.2" class="b"/>
<circle cx="384.5" cy="121.6" r="2.2" class="b"/>
<circle cx="379.6" cy="116.8" r="2.2" class="b"/>
<circle cx="419.2" cy="87.7" r="2.2" class="b"/>
<circle cx="373.9" cy="94.2" r="2.2" class="b"/>
<circle cx="414.9" cy="86.0" r="2.2" class="b"/>
<circle cx="416.9" cy="91.8" r="2.2" class="b"/>
<circle cx="407.7" cy="97.2" r="2.2" class="b"/>
<circle cx="393.7" cy="108.0" r="2.2" class="b"/>
<circle cx="434.2" cy="85.5" r="2.2" class="b"/>
<circle cx="399.5" cy="88.2" r="2.2" class="b"/>
<circle cx="406.7" cy="109.9" r="2.2" class="b"/>
<circle cx="377.9" cy="118.5" r="2.2" class="b"/>
<circle cx="382.5" cy="103.3" r="2.2" class="b"/>
<circle cx="377.4" cy="88.1" r="2.2" class="b"/>
<circle cx="382.2" cy="119.7" r="2.2" class="b"/>
<circle cx="420.8" cy="83.0" r="2.2" class="b"/>
<circle cx="419.4" cy="95.0" r="2.2" class="b"/>
<circle cx="385.2" cy="101.0" r="2.2" class="b"/>
<circle cx="376.2" cy="119.6" r="2.2" class="b"/>
<circle cx="401.9" cy="111.7" r="2.2" class="b"/>
<circle cx="385.2" cy="116.7" r="2.2" class="b"/>
<circle cx="410.6" cy="82.1" r="2.2" class="b"/>
<circle cx="387.2" cy="109.1" r="2.2" class="b"/>
<circle cx="421.4" cy="80.1" r="2.2" class="b"/>
<circle cx="412.0" cy="80.7" r="2.2" class="b"/>
<circle cx="403.9" cy="88.1" r="2.2" class="b"/>
<circle cx="370.8" cy="90.9" r="2.2" class="b"/>
<circle cx="372.6" cy="122.7" r="2.2" class="b"/>
<circle cx="385.9" cy="87.4" r="2.2" class="b"/>
<circle cx="415.3" cy="97.5" r="2.2" class="b"/>
<circle cx="386.0" cy="104.3" r="2.2" class="b"/>
<circle cx="393.1" cy="91.8" r="2.2" class="b"/>
<circle cx="388.8" cy="94.8" r="2.2" class="b"/>
<circle cx="424.7" cy="92.0" r="2.2" class="b"/>
<circle cx="405.1" cy="94.3" r="2.2" class="b"/>
<circle cx="367.0" cy="113.8" r="2.2" class="b"/>
<circle cx="365.5" cy="94.8" r="2.2" class="b"/>
<circle cx="423.0" cy="79.2" r="2.2" class="b"/>
<circle cx="373.1" cy="114.6" r="2.2" class="b"/>
<circle cx="433.0" cy="84.2" r="2.2" class="b"/>
<circle cx="400.0" cy="114.1" r="2.2" class="b"/>
<circle cx="372.9" cy="107.9" r="2.2" class="b"/>
<circle cx="379.9" cy="98.8" r="2.2" class="b"/>
<circle cx="375.7" cy="122.6" r="2.2" class="b"/>
<circle cx="401.8" cy="94.3" r="2.2" class="b"/>
<circle cx="369.8" cy="89.0" r="2.2" class="g"/>
<circle cx="388.6" cy="111.3" r="2.2" class="g"/>
<circle cx="351.9" cy="105.6" r="2.2" class="g"/>
<circle cx="366.3" cy="111.5" r="2.2" class="g"/>
<circle cx="374.8" cy="103.9" r="2.2" class="g"/>
<circle cx="362.8" cy="98.4" r="2.2" class="g"/>
<circle cx="385.1" cy="99.0" r="2.2" class="g"/>
<circle cx="352.0" cy="93.4" r="2.2" class="g"/>
<circle cx="364.0" cy="92.4" r="2.2" class="g"/>
<circle cx="381.3" cy="104.9" r="2.2" class="g"/>
<circle cx="359.5" cy="107.8" r="2.2" class="g"/>
<circle cx="379.7" cy="113.2" r="2.2" class="g"/>
<circle cx="359.3" cy="92.8" r="2.2" class="g"/>
<circle cx="378.5" cy="95.0" r="2.2" class="g"/>
<circle cx="369.2" cy="97.8" r="2.2" class="g"/>
<circle cx="372.2" cy="110.7" r="2.2" class="g"/>
<circle cx="369.3" cy="103.8" r="2.2" class="g"/>
<circle cx="355.1" cy="99.5" r="2.2" class="g"/>
<circle cx="381.8" cy="96.6" r="2.2" class="g"/>
<circle cx="365.4" cy="101.4" r="2.2" class="g"/>
<circle cx="373.1" cy="97.7" r="2.2" class="g"/>
<circle cx="377.6" cy="104.1" r="2.2" class="g"/>
<circle cx="354.9" cy="101.4" r="2.2" class="g"/>
<circle cx="363.2" cy="111.4" r="2.2" class="g"/>
<circle cx="356.4" cy="110.5" r="2.2" class="g"/>
<circle cx="375.8" cy="100.6" r="2.2" class="g"/>
<circle cx="384.0" cy="114.9" r="2.2" class="g"/>
<circle cx="371.7" cy="93.3" r="2.2" class="g"/>
<circle cx="378.2" cy="108.3" r="2.2" class="g"/>
<circle cx="386.8" cy="104.1" r="2.2" class="g"/>
<circle cx="385.2" cy="109.7" r="2.2" class="g"/>
<circle cx="364.4" cy="105.9" r="2.2" class="g"/>
<circle cx="381.9" cy="101.5" r="2.2" class="g"/>
<circle cx="370.3" cy="107.3" r="2.2" class="g"/>
<circle cx="358.1" cy="89.1" r="2.2" class="g"/>
<circle cx="352.1" cy="100.7" r="2.2" class="g"/>
<circle cx="387.0" cy="113.8" r="2.2" class="g"/>
<circle cx="357.5" cy="95.2" r="2.2" class="g"/>
<circle cx="360.8" cy="88.6" r="2.2" class="g"/>
<circle cx="381.5" cy="98.7" r="2.2" class="g"/>
<circle cx="350.8" cy="99.4" r="2.2" class="g"/>
<circle cx="358.5" cy="99.6" r="2.2" class="g"/>
<circle cx="360.6" cy="109.2" r="2.2" class="g"/>
<circle cx="373.8" cy="107.7" r="2.2" class="g"/>
<circle cx="354.7" cy="96.5" r="2.2" class="g"/>
<circle cx="384.9" cy="106.2" r="2.2" class="g"/>
<circle cx="356.6" cy="105.3" r="2.2" class="g"/>
<circle cx="374.5" cy="91.1" r="2.2" class="g"/>
<circle cx="388.3" cy="108.1" r="2.2" class="g"/>
<circle cx="381.8" cy="108.8" r="2.2" class="g"/>
<circle cx="375.9" cy="112.2" r="2.2" class="g"/>
<circle cx="363.7" cy="94.1" r="2.2" class="g"/>
<circle cx="373.6" cy="105.3" r="2.2" class="g"/>
<circle cx="371.5" cy="90.2" r="2.2" class="g"/>
<circle cx="366.6" cy="90.4" r="2.2" class="g"/>
<circle cx="353.6" cy="110.4" r="2.2" class="g"/>
<circle cx="366.3" cy="98.6" r="2.2" class="g"/>
<circle cx="384.4" cy="108.4" r="2.2" class="g"/>
<circle cx="377.0" cy="93.2" r="2.2" class="g"/>
<circle cx="372.0" cy="107.7" r="2.2" class="g"/>
<circle cx="367.7" cy="105.9" r="2.2" class="g"/>
<circle cx="376.8" cy="102.3" r="2.2" class="g"/>
<circle cx="369.0" cy="91.3" r="2.2" class="g"/>
<circle cx="353.8" cy="103.4" r="2.2" class="g"/>
<circle cx="367.7" cy="100.9" r="2.2" class="g"/>
<circle cx="360.8" cy="100.2" r="2.2" class="g"/>
<circle cx="378.7" cy="91.4" r="2.2" class="g"/>
<circle cx="382.6" cy="113.3" r="2.2" class="g"/>
<circle cx="355.4" cy="92.9" r="2.2" class="g"/>
<circle cx="374.1" cy="99.4" r="2.2" class="g"/>
<circle cx="360.4" cy="111.9" r="2.2" class="g"/>
<circle cx="379.4" cy="96.7" r="2.2" class="g"/>
<circle cx="387.8" cy="104.7" r="2.2" class="g"/>
<circle cx="364.0" cy="104.0" r="2.2" class="b"/>
<circle cx="372.0" cy="108.0" r="2.2" class="b"/>
<circle cx="376.0" cy="102.0" r="2.2" class="b"/>
<circle cx="366.0" cy="111.0" r="2.2" class="b"/>
<circle cx="380.0" cy="108.0" r="2.2" class="b"/>
<circle cx="385.0" cy="104.0" r="2.2" class="b"/>
<circle cx="382.0" cy="112.0" r="2.2" class="b"/>
<circle cx="388.0" cy="116.0" r="2.2" class="b"/>
<circle cx="378.0" cy="118.0" r="2.2" class="b"/>
<circle cx="390.0" cy="110.0" r="2.2" class="b"/>
<circle cx="370.0" cy="116.0" r="2.2" class="b"/>
<circle cx="384.0" cy="99.0" r="2.2" class="b"/>
<circle cx="375.0" cy="111.0" r="2.2" class="b"/>
<circle cx="369.0" cy="106.0" r="2.2" class="b"/>
<circle cx="379.0" cy="97.0" r="2.2" class="b"/>
<circle cx="387.0" cy="108.0" r="2.2" class="b"/>
<circle cx="411.6" cy="112.1" r="2.2" class="y"/>
<circle cx="431.8" cy="86.4" r="2.2" class="y"/>
<circle cx="405.8" cy="90.2" r="2.2" class="y"/>
<circle cx="403.3" cy="103.3" r="2.2" class="y"/>
<circle cx="423.0" cy="104.4" r="2.2" class="y"/>
<circle cx="407.3" cy="118.0" r="2.2" class="y"/>
<circle cx="418.8" cy="93.7" r="2.2" class="y"/>
<circle cx="429.4" cy="92.5" r="2.2" class="y"/>
<circle cx="406.0" cy="83.3" r="2.2" class="y"/>
<circle cx="398.7" cy="113.4" r="2.2" class="y"/>
<circle cx="423.7" cy="88.1" r="2.2" class="y"/>
<circle cx="416.6" cy="101.7" r="2.2" class="y"/>
<circle cx="409.1" cy="100.8" r="2.2" class="y"/>
<circle cx="417.7" cy="108.8" r="2.2" class="y"/>
<circle cx="408.8" cy="105.8" r="2.2" class="y"/>
<circle cx="349.1" cy="70.0" r="2.2" class="y"/>
<circle cx="361.5" cy="76.9" r="2.2" class="y"/>
<circle cx="368.7" cy="74.2" r="2.2" class="y"/>
<circle cx="359.0" cy="83.3" r="2.2" class="y"/>
<circle cx="346.7" cy="87.3" r="2.2" class="y"/>
<circle cx="349.0" cy="87.3" r="2.2" class="y"/>
<circle cx="353.3" cy="90.0" r="2.2" class="y"/>
<circle cx="330.4" cy="98.2" r="2.2" class="y"/>
<circle cx="333.6" cy="101.8" r="2.2" class="y"/>
<circle cx="347.8" cy="100.5" r="2.2" class="y"/>
<circle cx="432.4" cy="58.2" r="2.2" class="y"/>
<circle cx="418.5" cy="62.7" r="2.2" class="y"/>
<circle cx="399.6" cy="64.2" r="2.2" class="y"/>
<circle cx="394.5" cy="67.0" r="2.2" class="y"/>
<circle cx="388.2" cy="67.0" r="2.2" class="y"/>
<circle cx="412.7" cy="74.5" r="2.2" class="y"/>
<circle cx="420.4" cy="75.0" r="2.2" class="y"/>
<circle cx="436.7" cy="77.8" r="2.2" class="y"/>
<circle cx="442.7" cy="85.5" r="2.2" class="y"/>
<circle cx="341.0" cy="113.2" r="2.2" class="y"/>
<circle cx="349.3" cy="114.9" r="2.2" class="y"/>
<circle cx="352.6" cy="112.1" r="2.2" class="y"/>
<circle cx="348.8" cy="124.7" r="2.2" class="y"/>
<circle cx="347.7" cy="131.8" r="2.2" class="y"/>
<circle cx="356.4" cy="131.3" r="2.2" class="y"/>
<circle cx="368.5" cy="123.0" r="2.2" class="y"/>
<circle cx="369.6" cy="126.4" r="2.2" class="y"/>
<circle cx="381.6" cy="124.2" r="2.2" class="y"/>
<circle cx="383.8" cy="128.0" r="2.2" class="y"/>
<circle cx="376.1" cy="132.4" r="2.2" class="y"/>
<circle cx="387.1" cy="131.3" r="2.2" class="y"/>
<circle cx="386.0" cy="120.3" r="2.2" class="y"/>
<circle cx="389.3" cy="123.0" r="2.2" class="y"/>
<circle cx="361.8" cy="136.0" r="2.2" class="y"/>
<circle cx="364.5" cy="137.7" r="2.2" class="y"/>
<circle cx="370.0" cy="138.6" r="2.2" class="y"/>
<circle cx="375.5" cy="132.3" r="2.2" class="y"/>
<circle cx="378.2" cy="133.2" r="2.2" class="y"/>
<circle cx="371.8" cy="145.0" r="2.2" class="y"/>
<circle cx="381.0" cy="138.6" r="2.2" class="y"/>
<circle cx="385.5" cy="139.5" r="2.2" class="y"/>
<circle cx="383.6" cy="143.2" r="2.2" class="y"/>
<circle cx="381.8" cy="127.7" r="2.2" class="y"/>
<circle cx="370.0" cy="126.8" r="2.2" class="y"/>
<circle cx="445.5" cy="112.3" r="2.2" class="y"/>
<circle cx="450.0" cy="116.8" r="2.2" class="y"/>
<circle cx="442.7" cy="86.0" r="2.2" class="y"/>
<circle cx="440.0" cy="92.6" r="2.2" class="y"/>
<circle cx="471.8" cy="123.2" r="2.2" class="y"/>
<circle cx="472.0" cy="126.0" r="2.2" class="y"/>
<circle cx="467.3" cy="129.5" r="2.2" class="y"/>
<circle cx="471.8" cy="133.2" r="2.2" class="y"/>
<circle cx="387.0" cy="132.0" r="2.2" class="y"/>
<circle cx="392.7" cy="148.0" r="2.2" class="y"/>
<circle cx="387.3" cy="152.7" r="2.2" class="y"/>
<circle cx="391.0" cy="160.0" r="2.2" class="y"/>
<circle cx="401.0" cy="157.3" r="2.2" class="y"/>
<circle cx="397.3" cy="162.0" r="2.2" class="y"/>
<circle cx="396.4" cy="166.4" r="2.2" class="y"/>
<circle cx="406.4" cy="168.2" r="2.2" class="y"/>
<circle cx="404.5" cy="171.0" r="2.2" class="y"/>
<circle cx="407.3" cy="150.0" r="2.2" class="y"/>
<circle cx="463.6" cy="144.5" r="2.2" class="y"/>
<circle cx="469.0" cy="139.0" r="2.2" class="y"/>
<circle cx="472.7" cy="151.0" r="2.2" class="y"/>
<circle cx="464.5" cy="159.0" r="2.2" class="y"/>
<circle cx="471.0" cy="132.7" r="2.2" class="y"/>
<circle cx="468.0" cy="139.0" r="2.2" class="y"/>
<circle cx="467.4" cy="130.2" r="2.2" class="y"/>
<circle cx="485.5" cy="74.5" r="2.2" class="y"/>
<circle cx="445.5" cy="111.8" r="2.2" class="y"/>
<circle cx="450.5" cy="116.7" r="2.2" class="y"/>
<circle cx="442.7" cy="118.2" r="2.2" class="y"/>
<circle cx="455.5" cy="126.4" r="2.2" class="y"/>
<circle cx="454.5" cy="128.2" r="2.2" class="y"/>
<circle cx="446.4" cy="124.5" r="2.2" class="y"/>
<circle cx="448.2" cy="129.0" r="2.2" class="y"/>
<circle cx="451.0" cy="133.6" r="2.2" class="y"/>
<circle cx="472.4" cy="122.7" r="2.2" class="y"/>
<circle cx="471.8" cy="127.0" r="2.2" class="y"/>
<circle cx="467.3" cy="130.0" r="2.2" class="y"/>
<circle cx="471.3" cy="133.3" r="2.2" class="y"/>
<circle cx="469.0" cy="138.7" r="2.2" class="y"/>
<circle cx="463.6" cy="144.2" r="2.2" class="y"/>
<circle cx="473.0" cy="151.0" r="2.2" class="y"/>
<circle cx="357.3" cy="160.0" r="2.2" class="y"/>
<circle cx="367.8" cy="158.2" r="2.2" class="y"/>
<circle cx="371.8" cy="152.4" r="2.2" class="y"/>
<circle cx="371.8" cy="145.8" r="2.2" class="y"/>
<circle cx="380.5" cy="146.4" r="2.2" class="y"/>
<circle cx="386.4" cy="152.4" r="2.2" class="y"/>
<circle cx="389.0" cy="159.6" r="2.2" class="y"/>
<circle cx="378.7" cy="169.0" r="2.2" class="y"/>
<circle cx="366.0" cy="174.2" r="2.2" class="y"/>
<circle cx="385.5" cy="182.4" r="2.2" class="y"/>
<circle cx="364.5" cy="140.0" r="2.2" class="y"/>
<circle cx="381.8" cy="141.8" r="2.2" class="y"/>
<circle cx="465.5" cy="159.0" r="2.2" class="y"/>
<circle cx="473.0" cy="151.5" r="2.2" class="y"/>
<circle cx="453.6" cy="152.7" r="2.2" class="y"/>
<circle cx="344.4" cy="86.0" r="2.2" class="y"/>
<circle cx="358.6" cy="82.7" r="2.2" class="y"/>
<circle cx="353.1" cy="89.9" r="2.2" class="y"/>
<circle cx="359.7" cy="86.0" r="2.2" class="y"/>
<circle cx="366.8" cy="80.0" r="2.2" class="y"/>
<circle cx="389.0" cy="80.6" r="2.2" class="y"/>
<circle cx="394.8" cy="80.0" r="2.2" class="y"/>
<circle cx="347.7" cy="100.3" r="2.2" class="y"/>
<circle cx="414.5" cy="160.5" r="2.2" class="y"/>
<circle cx="423.4" cy="158.0" r="2.2" class="y"/>
<circle cx="436.2" cy="163.7" r="2.2" class="y"/>
<circle cx="441.3" cy="164.4" r="2.2" class="y"/>
<circle cx="454.0" cy="163.0" r="2.2" class="y"/>
<circle cx="465.4" cy="159.3" r="2.2" class="y"/>
<circle cx="405.6" cy="168.2" r="2.2" class="y"/>
<circle cx="412.0" cy="166.3" r="2.2" class="y"/>
<circle cx="414.5" cy="170.7" r="2.2" class="y"/>
<circle cx="420.9" cy="168.2" r="2.2" class="y"/>
<circle cx="424.7" cy="166.3" r="2.2" class="y"/>
<circle cx="434.9" cy="171.4" r="2.2" class="y"/>
<circle cx="438.7" cy="171.4" r="2.2" class="y"/>
<circle cx="443.8" cy="172.0" r="2.2" class="y"/>
<circle cx="423.6" cy="98.4" r="2.2" class="b"/>
<circle cx="425.5" cy="107.3" r="2.2" class="b"/>
<circle cx="421.7" cy="85.6" r="2.2" class="b"/>
<circle cx="490.4" cy="143.6" r="2.2" class="b"/>
<circle cx="442.6" cy="191.7" r="2.2" class="o"/>
<circle cx="407.5" cy="190.2" r="2.2" class="o"/>
<circle cx="438.5" cy="174.3" r="2.2" class="o"/>
<circle cx="408.9" cy="176.4" r="2.2" class="o"/>
<circle cx="460.0" cy="179.5" r="2.2" class="o"/>
<circle cx="425.3" cy="195.2" r="2.2" class="o"/>
<circle cx="451.6" cy="180.4" r="2.2" class="o"/>
<circle cx="428.7" cy="168.5" r="2.2" class="o"/>
<circle cx="431.9" cy="182.2" r="2.2" class="o"/>
<circle cx="433.4" cy="193.5" r="2.2" class="o"/>
<circle cx="453.2" cy="172.1" r="2.2" class="o"/>
<circle cx="417.6" cy="181.2" r="2.2" class="o"/>
<circle cx="429.0" cy="174.6" r="2.2" class="o"/>
<circle cx="418.1" cy="169.6" r="2.2" class="o"/>
<circle cx="412.6" cy="186.0" r="2.2" class="o"/>
<circle cx="443.8" cy="177.6" r="2.2" class="o"/>
<circle cx="406.8" cy="182.4" r="2.2" class="o"/>
<circle cx="441.0" cy="166.5" r="2.2" class="o"/>
<circle cx="460.2" cy="186.0" r="2.2" class="o"/>
<circle cx="413.9" cy="173.0" r="2.2" class="o"/>
<circle cx="417.1" cy="194.8" r="2.2" class="o"/>
<circle cx="441.1" cy="184.9" r="2.2" class="o"/>
<circle cx="424.1" cy="167.0" r="2.2" class="o"/>
<circle cx="448.6" cy="189.4" r="2.2" class="o"/>
<circle cx="458.9" cy="173.5" r="2.2" class="o"/>
<circle cx="433.5" cy="177.7" r="2.2" class="o"/>
<circle cx="428.8" cy="184.5" r="2.2" class="o"/>
<circle cx="437.0" cy="177.3" r="2.2" class="o"/>
<circle cx="446.9" cy="181.1" r="2.2" class="o"/>
<circle cx="434.3" cy="166.1" r="2.2" class="o"/>
<circle cx="444.3" cy="169.2" r="2.2" class="o"/>
<circle cx="452.7" cy="175.6" r="2.2" class="o"/>
<circle cx="454.2" cy="182.3" r="2.2" class="o"/>
<circle cx="422.8" cy="178.3" r="2.2" class="o"/>
<circle cx="438.2" cy="189.1" r="2.2" class="o"/>
<circle cx="453.4" cy="188.3" r="2.2" class="o"/>
<circle cx="437.5" cy="179.7" r="2.2" class="o"/>
<circle cx="418.6" cy="192.0" r="2.2" class="o"/>
<circle cx="425.7" cy="190.0" r="2.2" class="o"/>
<circle cx="426.4" cy="182.4" r="2.2" class="o"/>
<circle cx="416.4" cy="186.3" r="2.2" class="o"/>
<circle cx="424.8" cy="176.6" r="2.2" class="o"/>
<circle cx="414.2" cy="177.9" r="2.2" class="o"/>
<circle cx="446.4" cy="193.2" r="2.2" class="o"/>
<circle cx="433.6" cy="169.3" r="2.2" class="o"/>
<circle cx="408.3" cy="172.0" r="2.2" class="o"/>
<circle cx="419.8" cy="172.7" r="2.2" class="o"/>
<circle cx="457.8" cy="184.4" r="2.2" class="o"/>
<circle cx="441.2" cy="180.6" r="2.2" class="o"/>
<circle cx="408.7" cy="181.1" r="2.2" class="o"/>
<circle cx="433.1" cy="186.4" r="2.2" class="o"/>
<circle cx="449.9" cy="175.0" r="2.2" class="o"/>
<circle cx="444.3" cy="172.7" r="2.2" class="o"/>
<circle cx="403.5" cy="182.4" r="2.2" class="o"/>
<circle cx="442.9" cy="187.6" r="2.2" class="o"/>
<circle cx="460.9" cy="183.2" r="2.2" class="o"/>
<circle cx="421.9" cy="182.2" r="2.2" class="o"/>
<circle cx="411.7" cy="170.3" r="2.2" class="o"/>
<circle cx="438.0" cy="169.5" r="2.2" class="o"/>
<circle cx="447.8" cy="185.8" r="2.2" class="o"/>
<circle cx="410.7" cy="179.3" r="2.2" class="o"/>
<circle cx="433.1" cy="173.8" r="2.2" class="o"/>
<circle cx="414.4" cy="190.6" r="2.2" class="o"/>
<circle cx="404.6" cy="178.8" r="2.2" class="o"/>
<circle cx="431.5" cy="179.5" r="2.2" class="o"/>
<circle cx="412.4" cy="182.8" r="2.2" class="o"/>
<circle cx="421.8" cy="194.5" r="2.2" class="o"/>
<circle cx="428.2" cy="171.4" r="2.2" class="o"/>
<circle cx="446.3" cy="189.7" r="2.2" class="o"/>
<circle cx="425.3" cy="187.4" r="2.2" class="o"/>
<circle cx="450.9" cy="188.4" r="2.2" class="o"/>
<circle cx="454.2" cy="179.7" r="2.2" class="o"/>
<circle cx="437.6" cy="192.8" r="2.2" class="o"/>
<circle cx="409.1" cy="187.8" r="2.2" class="o"/>
<circle cx="428.6" cy="195.0" r="2.2" class="o"/>
<circle cx="429.5" cy="177.3" r="2.2" class="o"/>
<circle cx="438.4" cy="181.9" r="2.2" class="o"/>
<circle cx="420.7" cy="169.1" r="2.2" class="o"/>
<circle cx="429.7" cy="189.7" r="2.2" class="o"/>
<circle cx="419.8" cy="184.3" r="2.2" class="o"/>
<circle cx="449.9" cy="183.2" r="2.2" class="o"/>
<circle cx="455.2" cy="183.9" r="2.2" class="o"/>
<circle cx="431.9" cy="167.6" r="2.2" class="o"/>
<circle cx="417.1" cy="175.9" r="2.2" class="o"/>
<circle cx="415.6" cy="188.4" r="2.2" class="o"/>
<circle cx="409.1" cy="192.2" r="2.2" class="o"/>
<circle cx="416.4" cy="171.9" r="2.2" class="o"/>
<circle cx="437.0" cy="186.0" r="2.2" class="o"/>
<circle cx="439.8" cy="176.8" r="2.2" class="o"/>
<circle cx="450.2" cy="177.8" r="2.2" class="o"/>
<circle cx="406.5" cy="176.2" r="2.2" class="o"/>
<circle cx="420.9" cy="188.9" r="2.2" class="o"/>
<circle cx="456.5" cy="188.6" r="2.2" class="o"/>
<circle cx="422.1" cy="170.7" r="2.2" class="o"/>
<circle cx="453.9" cy="177.5" r="2.2" class="o"/>
<circle cx="452.8" cy="190.8" r="2.2" class="o"/>
<circle cx="447.2" cy="169.8" r="2.2" class="o"/>
<circle cx="443.1" cy="175.1" r="2.2" class="o"/>
<circle cx="427.1" cy="169.3" r="2.2" class="o"/>
<circle cx="461.2" cy="181.3" r="2.2" class="o"/>
<circle cx="411.1" cy="177.3" r="2.2" class="o"/>
<circle cx="422.3" cy="179.8" r="2.2" class="o"/>
<circle cx="430.3" cy="172.7" r="2.2" class="o"/>
<circle cx="431.5" cy="170.4" r="2.2" class="o"/>
<circle cx="432.8" cy="189.1" r="2.2" class="o"/>
<circle cx="438.8" cy="166.9" r="2.2" class="o"/>
<circle cx="434.9" cy="181.0" r="2.2" class="o"/>
<circle cx="427.2" cy="180.5" r="2.2" class="o"/>
<circle cx="435.7" cy="173.9" r="2.2" class="o"/>
<circle cx="421.1" cy="175.2" r="2.2" class="o"/>
<circle cx="453.5" cy="186.9" r="2.2" class="o"/>
<circle cx="422.2" cy="186.7" r="2.2" class="o"/>
<circle cx="420.9" cy="192.3" r="2.2" class="o"/>
<circle cx="425.1" cy="184.8" r="2.2" class="o"/>
<circle cx="406.1" cy="184.9" r="2.2" class="o"/>
<circle cx="431.3" cy="176.3" r="2.2" class="o"/>
<circle cx="440.3" cy="173.0" r="2.2" class="o"/>
<circle cx="425.4" cy="180.0" r="2.2" class="o"/>
<circle cx="439.4" cy="178.4" r="2.2" class="o"/>
<circle cx="451.6" cy="168.6" r="2.2" class="o"/>
<circle cx="455.3" cy="171.5" r="2.2" class="o"/>
<circle cx="449.8" cy="186.0" r="2.2" class="o"/>
<circle cx="409.5" cy="184.2" r="2.2" class="o"/>
<circle cx="422.7" cy="173.0" r="2.2" class="o"/>
<circle cx="424.3" cy="171.9" r="2.2" class="o"/>
<circle cx="444.6" cy="185.7" r="2.2" class="o"/>
<circle cx="456.7" cy="175.8" r="2.2" class="o"/>
<circle cx="415.5" cy="180.3" r="2.2" class="o"/>
<circle cx="429.5" cy="180.3" r="2.2" class="o"/>
<circle cx="404.7" cy="181.0" r="2.2" class="o"/>
<circle cx="454.9" cy="169.3" r="2.2" class="o"/>
<circle cx="447.5" cy="173.8" r="2.2" class="o"/>
<circle cx="445.9" cy="187.0" r="2.2" class="o"/>
<circle cx="434.6" cy="172.3" r="2.2" class="o"/>
<circle cx="427.5" cy="193.8" r="2.2" class="o"/>
<circle cx="405.3" cy="188.8" r="2.2" class="o"/>
<circle cx="460.2" cy="177.4" r="2.2" class="o"/>
<circle cx="444.2" cy="180.6" r="2.2" class="o"/>
<circle cx="415.2" cy="193.0" r="2.2" class="o"/>
<circle cx="435.1" cy="195.4" r="2.2" class="o"/>
<circle cx="431.2" cy="184.4" r="2.2" class="o"/>
<circle cx="412.7" cy="192.7" r="2.2" class="o"/>
<circle cx="456.5" cy="184.3" r="2.2" class="o"/>
<circle cx="416.6" cy="190.6" r="2.2" class="o"/>
<circle cx="437.8" cy="194.6" r="2.2" class="o"/>
<circle cx="410.5" cy="172.3" r="2.2" class="o"/>
<circle cx="448.0" cy="166.4" r="2.2" class="o"/>
<circle cx="404.4" cy="186.1" r="2.2" class="o"/>
<circle cx="435.8" cy="207.2" r="2.2" class="o"/>
<circle cx="422.7" cy="199.5" r="2.2" class="o"/>
<circle cx="442.5" cy="201.6" r="2.2" class="o"/>
<circle cx="427.2" cy="204.3" r="2.2" class="o"/>
<circle cx="448.8" cy="197.9" r="2.2" class="o"/>
<circle cx="427.6" cy="197.4" r="2.2" class="o"/>
<circle cx="436.9" cy="196.3" r="2.2" class="o"/>
<circle cx="443.6" cy="197.4" r="2.2" class="o"/>
<circle cx="438.0" cy="204.0" r="2.2" class="o"/>
<circle cx="442.5" cy="193.1" r="2.2" class="o"/>
<circle cx="438.2" cy="209.3" r="2.2" class="o"/>
<circle cx="432.4" cy="211.5" r="2.2" class="o"/>
<circle cx="450.0" cy="193.0" r="2.2" class="o"/>
<circle cx="428.1" cy="202.0" r="2.2" class="o"/>
<circle cx="420.0" cy="196.4" r="2.2" class="o"/>
<circle cx="420.5" cy="205.4" r="2.2" class="o"/>
<circle cx="427.1" cy="208.4" r="2.2" class="o"/>
<circle cx="433.6" cy="195.2" r="2.2" class="o"/>
<circle cx="440.5" cy="196.0" r="2.2" class="o"/>
<circle cx="432.4" cy="200.1" r="2.2" class="o"/>
<circle cx="435.2" cy="200.6" r="2.2" class="o"/>
<circle cx="449.7" cy="194.6" r="2.2" class="o"/>
<circle cx="429.2" cy="209.4" r="2.2" class="o"/>
<circle cx="442.4" cy="207.5" r="2.2" class="o"/>
<circle cx="433.1" cy="208.4" r="2.2" class="o"/>
<circle cx="421.2" cy="202.4" r="2.2" class="o"/>
<circle cx="432.5" cy="203.1" r="2.2" class="o"/>
<circle cx="423.1" cy="197.2" r="2.2" class="o"/>
<circle cx="423.5" cy="203.8" r="2.2" class="o"/>
<circle cx="439.5" cy="206.6" r="2.2" class="o"/>
<circle cx="424.0" cy="200.3" r="2.2" class="o"/>
<circle cx="451.8" cy="197.2" r="2.2" class="o"/>
<circle cx="447.8" cy="201.7" r="2.2" class="o"/>
<circle cx="463.0" cy="187.0" r="2.2" class="o"/>
<circle cx="467.0" cy="188.5" r="2.2" class="o"/>
<circle cx="471.0" cy="188.0" r="2.2" class="o"/>
<circle cx="459.0" cy="191.0" r="2.2" class="o"/>
<circle cx="455.0" cy="195.0" r="2.2" class="o"/>
<circle cx="348.2" cy="172.2" r="2.2" class="o"/>
<circle cx="410.7" cy="182.2" r="2.2" class="y"/>
<circle cx="414.5" cy="186.6" r="2.2" class="y"/>
<circle cx="419.6" cy="179.0" r="2.2" class="y"/>
<circle cx="437.4" cy="179.0" r="2.2" class="y"/>
<circle cx="448.9" cy="184.1" r="2.2" class="y"/>
<circle cx="413.6" cy="186.6" r="2.2" class="y"/>
<circle cx="403.6" cy="171.0" r="2.2" class="y"/>
<circle cx="405.5" cy="178.0" r="2.2" class="y"/>
<circle cx="425.0" cy="175.0" r="2.2" class="y"/>
<circle cx="430.0" cy="178.0" r="2.2" class="y"/>
<circle cx="460.7" cy="177.2" r="2.2" class="b"/>
<circle cx="402.0" cy="206.6" r="2.2" class="b"/>
<circle cx="434.4" cy="189.0" r="2.2" class="b"/>
<circle cx="406.7" cy="195.6" r="2.2" class="b"/>
<circle cx="426.9" cy="198.6" r="2.2" class="b"/>
<circle cx="395.0" cy="197.8" r="2.2" class="b"/>
<circle cx="443.4" cy="191.4" r="2.2" class="b"/>
<circle cx="413.2" cy="202.1" r="2.2" class="b"/>
<circle cx="465.3" cy="181.9" r="2.2" class="b"/>
<circle cx="471.6" cy="175.0" r="2.2" class="b"/>
<circle cx="420.2" cy="201.0" r="2.2" class="b"/>
<circle cx="452.1" cy="182.5" r="2.2" class="b"/>
<circle cx="392.1" cy="204.3" r="2.2" class="b"/>
<circle cx="432.3" cy="195.7" r="2.2" class="b"/>
<circle cx="400.8" cy="200.6" r="2.2" class="b"/>
<circle cx="426.9" cy="191.2" r="2.2" class="b"/>
<circle cx="443.8" cy="187.0" r="2.2" class="b"/>
<circle cx="439.8" cy="194.8" r="2.2" class="b"/>
<circle cx="407.9" cy="201.2" r="2.2" class="b"/>
<circle cx="455.9" cy="179.6" r="2.2" class="b"/>
<circle cx="416.4" cy="195.7" r="2.2" class="b"/>
<circle cx="398.0" cy="209.0" r="2.2" class="b"/>
<circle cx="420.6" cy="195.6" r="2.2" class="b"/>
<circle cx="425.7" cy="195.2" r="2.2" class="b"/>
<circle cx="472.1" cy="178.4" r="2.2" class="b"/>
<circle cx="439.2" cy="189.4" r="2.2" class="b"/>
<circle cx="459.4" cy="182.3" r="2.2" class="b"/>
<circle cx="407.6" cy="198.4" r="2.2" class="b"/>
<circle cx="466.6" cy="176.2" r="2.2" class="b"/>
<circle cx="437.6" cy="193.2" r="2.2" class="b"/>
<circle cx="453.6" cy="187.0" r="2.2" class="b"/>
<circle cx="408.2" cy="204.4" r="2.2" class="b"/>
<circle cx="445.6" cy="184.6" r="2.2" class="b"/>
<circle cx="419.2" cy="193.0" r="2.2" class="b"/>
<circle cx="459.2" cy="178.8" r="2.2" class="b"/>
<circle cx="411.8" cy="195.7" r="2.2" class="b"/>
<circle cx="405.1" cy="200.2" r="2.2" class="b"/>
<circle cx="402.6" cy="202.7" r="2.2" class="b"/>
<circle cx="412.7" cy="198.9" r="2.2" class="b"/>
<circle cx="406.7" cy="203.1" r="2.2" class="b"/>
<circle cx="463.8" cy="178.3" r="2.2" class="b"/>
<circle cx="429.2" cy="192.3" r="2.2" class="b"/>
<circle cx="448.6" cy="190.1" r="2.2" class="b"/>
<circle cx="401.7" cy="196.7" r="2.2" class="b"/>
<circle cx="414.6" cy="197.6" r="2.2" class="b"/>
<circle cx="397.7" cy="199.6" r="2.2" class="b"/>
<circle cx="414.8" cy="201.1" r="2.2" class="b"/>
<circle cx="424.5" cy="197.3" r="2.2" class="b"/>
<circle cx="466.5" cy="180.2" r="2.2" class="b"/>
<circle cx="395.2" cy="204.9" r="2.2" class="b"/>
<circle cx="433.7" cy="197.3" r="2.2" class="b"/>
<circle cx="468.2" cy="172.6" r="2.2" class="b"/>
<circle cx="461.9" cy="180.5" r="2.2" class="b"/>
<circle cx="445.9" cy="189.4" r="2.2" class="b"/>
<circle cx="455.1" cy="182.7" r="2.2" class="b"/>
<circle cx="451.3" cy="183.9" r="2.2" class="b"/>
<circle cx="465.9" cy="173.8" r="2.2" class="b"/>
<circle cx="474.8" cy="176.7" r="2.2" class="b"/>
<circle cx="457.2" cy="185.0" r="2.2" class="b"/>
<circle cx="403.2" cy="198.8" r="2.2" class="b"/>
<circle cx="398.5" cy="205.8" r="2.2" class="b"/>
<circle cx="424.2" cy="193.6" r="2.2" class="b"/>
<circle cx="441.6" cy="188.1" r="2.2" class="b"/>
<circle cx="400.9" cy="204.3" r="2.2" class="b"/>
<circle cx="435.7" cy="195.8" r="2.2" class="b"/>
<circle cx="417.5" cy="196.8" r="2.2" class="b"/>
<circle cx="461.4" cy="174.9" r="2.2" class="b"/>
<circle cx="454.6" cy="185.0" r="2.2" class="b"/>
<circle cx="394.9" cy="201.3" r="2.2" class="b"/>
<circle cx="470.0" cy="173.0" r="2.2" class="b"/>
<circle cx="434.2" cy="194.2" r="2.2" class="b"/>
<circle cx="397.8" cy="196.2" r="2.2" class="b"/>
<circle cx="451.0" cy="186.2" r="2.2" class="b"/>
<circle cx="401.3" cy="198.8" r="2.2" class="b"/>
<circle cx="430.5" cy="190.3" r="2.2" class="b"/>
<circle cx="421.5" cy="198.3" r="2.2" class="b"/>
<circle cx="451.0" cy="188.6" r="2.2" class="b"/>
<circle cx="464.6" cy="176.4" r="2.2" class="b"/>
<circle cx="381.8" cy="211.4" r="2.2" class="b"/>
<circle cx="483.6" cy="181.3" r="2.2" class="b"/>
<circle cx="416.2" cy="197.5" r="2.2" class="y"/>
</g>
<rect x="205.75" y="120.2" width="26.849999999999994" height="25.999999999999986" fill="#fff" stroke="#9a9a9a" stroke-width="0.5"/>
<circle cx="214.8" cy="124.3" r="1.4" fill="#8cc46a" stroke="#333" stroke-width="0.35"/>
<text x="223.30" y="124.50" font-size="4.44" text-anchor="start" fill="#262626" stroke="#262626" stroke-width="0.05" font-family="Liberation Sans, Arial, sans-serif" dominant-baseline="middle">A9</text>
<circle cx="214.8" cy="130.1" r="1.4" fill="#f39c65" stroke="#333" stroke-width="0.35"/>
<text x="223.30" y="130.30" font-size="4.44" text-anchor="start" fill="#262626" stroke="#262626" stroke-width="0.05" font-family="Liberation Sans, Arial, sans-serif" dominant-baseline="middle">A13</text>
<circle cx="214.8" cy="136.2" r="1.4" fill="#88b6e4" stroke="#333" stroke-width="0.35"/>
<text x="223.30" y="136.40" font-size="4.44" text-anchor="start" fill="#262626" stroke="#262626" stroke-width="0.05" font-family="Liberation Sans, Arial, sans-serif" dominant-baseline="middle">A18</text>
<circle cx="214.8" cy="142.4" r="1.4" fill="#f4cf4c" stroke="#333" stroke-width="0.35"/>
<text x="223.30" y="142.60" font-size="4.44" text-anchor="start" fill="#262626" stroke="#262626" stroke-width="0.05" font-family="Liberation Sans, Arial, sans-serif" dominant-baseline="middle">A19</text>
<rect x="483.2" y="17.3" width="63.00000000000006" height="32.3" fill="#fff" stroke="#9a9a9a" stroke-width="0.5"/>
<circle cx="496.5" cy="22.9" r="2.1" fill="#8cc46a" stroke="#333" stroke-width="0.4"/>
<text x="509.00" y="23.10" font-size="6.03" text-anchor="start" fill="#262626" stroke="#262626" stroke-width="0.05" font-family="Liberation Sans, Arial, sans-serif" dominant-baseline="middle">Behavior A09</text>
<circle cx="496.5" cy="30.3" r="2.1" fill="#f39c65" stroke="#333" stroke-width="0.4"/>
<text x="509.00" y="30.50" font-size="6.03" text-anchor="start" fill="#262626" stroke="#262626" stroke-width="0.05" font-family="Liberation Sans, Arial, sans-serif" dominant-baseline="middle">Behavior A13</text>
<circle cx="496.5" cy="38.2" r="2.1" fill="#88b6e4" stroke="#333" stroke-width="0.4"/>
<text x="509.00" y="38.40" font-size="6.03" text-anchor="start" fill="#262626" stroke="#262626" stroke-width="0.05" font-family="Liberation Sans, Arial, sans-serif" dominant-baseline="middle">Behavior A18</text>
<circle cx="496.5" cy="45.5" r="2.1" fill="#f4cf4c" stroke="#333" stroke-width="0.4"/>
<text x="509.00" y="45.70" font-size="6.03" text-anchor="start" fill="#262626" stroke="#262626" stroke-width="0.05" font-family="Liberation Sans, Arial, sans-serif" dominant-baseline="middle">Behavior A19</text>
</svg>
</body></html>
